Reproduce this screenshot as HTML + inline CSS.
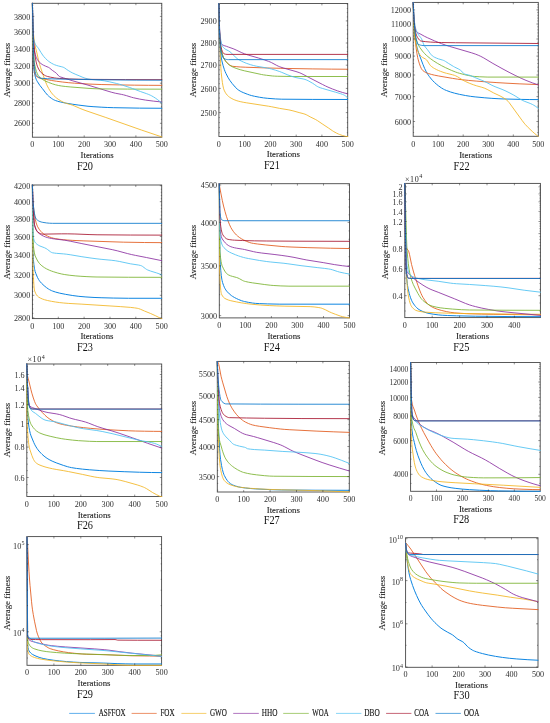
<!DOCTYPE html>
<html lang="en"><head><meta charset="utf-8"><title>Convergence curves F20-F30</title>
<style>
html,body{margin:0;padding:0;background:#fff;}
body{width:550px;height:723px;overflow:hidden;}
svg{display:block;}
text{font-family:"Liberation Serif",serif;fill:#262626;}
.tk{font-size:8.15px;fill:#303030;}
.lb{font-size:8.75px;fill:#1c1c1c;stroke:#1c1c1c;stroke-width:0.1;}
.yl{font-size:8.85px;fill:#1c1c1c;stroke:#1c1c1c;stroke-width:0.1;}
.tt{font-size:12px;fill:#111;}
.lg{font-size:9.4px;fill:#111;stroke:#111;stroke-width:0.12;}
.ex{font-size:8px;}
.cv{fill:none;stroke-width:0.85;stroke-linejoin:round;stroke-linecap:round;}
.ax{fill:none;stroke:#484848;stroke-width:0.9;}
.tm{stroke:#262626;stroke-width:0.5;}
</style></head><body>
<svg width="550" height="723" viewBox="0 0 550 723">
<rect width="550" height="723" fill="#fff"/>
<g>
<rect class="ax" x="32.4" y="3.3" width="129.4" height="133.9"/>
<path class="cv" style="stroke-width:1" stroke="#0E86E2" d="M32.4 3.3 L32.9 38.85 L33.15 49.04 L33.65 64.96 L33.9 69.6 L34.15 71.55 L34.65 74.11 L35.43 77.19 L36.15 79.23 L36.65 80.32 L37.15 81.22 L39.9 85.47 L42.4 88.58 L45.54 92.72 L47.56 95.1 L48.51 96 L49.59 96.91 L51.61 98.46 L52.62 99.12 L53.63 99.71 L54.64 100.19 L55.65 100.59 L57.67 101.26 L60.71 102.05 L65.76 103.11 L72.84 104.28 L78.9 105.14 L88 106.25 L93.06 106.66 L101.14 107.17 L107.21 107.47 L113.28 107.68 L139.56 108.13 L161.8 108.27"/>
<path class="cv" stroke="#E2581A" d="M32.4 3.3 L32.9 38.96 L33.4 56.34 L33.65 62.59 L33.9 66.83 L34.04 68.18 L34.42 70.66 L34.9 73.1 L35.15 74.1 L35.65 75.54 L35.9 76.01 L36.15 76.31 L36.65 76.64 L37.65 77.22 L38.65 77.69 L39.9 78.16 L41.15 78.52 L42.65 78.85 L46.55 79.52 L51.61 80.49 L56.66 81.28 L62.73 82.05 L68.79 82.71 L74.44 83.18 L89.01 84.07 L101.14 84.53 L119.34 84.92 L134.5 85.17 L148.66 85.31 L161.8 85.36"/>
<path class="cv" stroke="#F2B521" d="M32.4 3.3 L32.65 16.42 L32.95 27.27 L33.41 32.98 L34.15 39.84 L34.65 43.25 L35.4 47.06 L36.9 52.91 L38.47 59.93 L39.65 64.43 L40.65 67.66 L44.71 79.64 L46.55 84.27 L47.31 85.91 L48.58 88.32 L49.59 90.06 L51 92.18 L52.62 94.23 L53.63 95.36 L55.65 97.27 L56.66 98.1 L58.68 99.57 L61.72 101.4 L63.74 102.42 L64.75 102.84 L66.77 103.53 L70.82 104.64 L72.84 105.32 L74.86 106.14 L79.91 108.37 L82.95 109.58 L85.98 110.69 L105.19 117.28 L141.58 130.08 L161.8 136.91"/>
<path class="cv" stroke="#8A2FA0" d="M32.4 3.3 L32.9 24.57 L33.15 33.45 L33.4 39.58 L33.9 45.13 L34.42 49.44 L34.9 52.44 L35.4 54.78 L35.9 56.47 L36.4 57.66 L37.4 59.56 L38.4 61.04 L39.48 62.28 L40.9 63.52 L42.15 64.41 L43.52 65.21 L45.54 66.14 L48.51 67.36 L49.59 68.06 L52.33 70.36 L54.64 71.91 L55.88 72.82 L56.66 73.58 L58.68 75.86 L59.7 76.63 L60.71 77.06 L63.52 77.89 L72.84 80.85 L88 85.11 L111.25 92.18 L115.3 93.21 L121.36 94.37 L123.58 94.85 L126.42 95.64 L131.47 97.23 L133.41 97.74 L139.56 99.07 L145.62 100.1 L153.71 101.15 L161.8 102"/>
<path class="cv" stroke="#7AB22F" d="M32.4 3.3 L32.65 24.16 L32.95 40.91 L33.4 50.56 L33.65 54.63 L33.9 57.94 L34.4 62.71 L34.86 65.45 L35.65 68.85 L36.44 71.52 L37.4 73.92 L38.15 75.29 L39.15 76.59 L40.65 78.07 L42.4 79.41 L44.53 80.64 L48.58 82.41 L52.62 83.91 L55.65 84.82 L58.68 85.54 L61.72 86.04 L65.76 86.53 L70.82 86.99 L89.01 88.38 L94.07 88.68 L99.12 88.86 L127.43 89.09 L161.8 89.18"/>
<path class="cv" stroke="#4CC0F2" d="M32.4 3.3 L33.15 32.02 L33.41 37.51 L33.49 38.18 L34.15 40.88 L34.9 43.15 L35.4 44.28 L35.9 45.18 L36.65 46.22 L37.9 47.62 L38.65 48.61 L40.9 52.35 L42.65 55.02 L43.9 56.67 L45.54 58.49 L47.56 60.41 L48.58 61.24 L49.87 62.18 L51.61 63.27 L53.63 64.33 L54.64 64.77 L56.66 65.47 L58.68 66.06 L61.72 66.79 L62.73 67.08 L63.74 67.46 L64.75 68.04 L66.77 69.53 L68.79 70.82 L70.82 72.04 L72.26 72.82 L75.87 74.45 L79.91 76.1 L82.95 77.42 L84.97 78.16 L88 78.89 L90.82 79.36 L94.07 79.73 L100.13 80.26 L104.18 80.81 L109.23 81.77 L116.31 83.41 L119.34 84.22 L122.37 85.11 L129.45 87.41 L132.48 88.5 L140.57 91.59 L146.64 93.68 L148.66 94.46 L150.68 95.36 L151.69 95.86 L153.71 97.02 L155.73 98.34 L157.76 99.8 L159.78 101.39 L161.8 103.09"/>
<path class="cv" stroke="#A8152F" d="M32.4 3.3 L32.9 26.05 L33.41 37.06 L33.9 44.89 L34.4 50.72 L34.86 54.54 L35.4 58.06 L36.15 61.96 L36.9 64.88 L37.59 66.82 L38.65 69.06 L39.9 71.1 L41.15 72.59 L42.9 74.1 L44.53 75.21 L45.54 75.76 L46.55 76.18 L47.56 76.48 L50.6 77.21 L54.64 77.93 L56.66 78.2 L59.7 78.48 L69.8 78.96 L78.9 79.23 L89.01 79.37 L125.41 79.57 L161.8 79.64"/>
<path class="cv" stroke="#0878CC" d="M32.4 3.3 L33.41 45.72 L33.65 54.18 L33.9 60.66 L34.04 62.73 L34.42 66.37 L34.9 69.98 L35.15 71.48 L35.65 73.68 L35.9 74.41 L36.15 74.9 L36.65 75.5 L37.65 76.48 L38.9 77.38 L40.15 77.95 L40.9 78.15 L41.68 78.27 L47.56 78.7 L55.65 78.99 L83.96 79.51 L111.25 79.89 L136.53 80.11 L161.8 80.18"/>
<text class="tk" text-anchor="middle" x="32.4" y="147.3">0</text>
<text class="tk" text-anchor="middle" x="58.3" y="147.3">100</text>
<text class="tk" text-anchor="middle" x="84.2" y="147.3">200</text>
<text class="tk" text-anchor="middle" x="110" y="147.3">300</text>
<text class="tk" text-anchor="middle" x="135.9" y="147.3">400</text>
<text class="tk" text-anchor="middle" x="161.8" y="147.3">500</text>
<text class="tk" text-anchor="end" x="30.2" y="19.5">3800</text>
<text class="tk" text-anchor="end" x="30.2" y="35">3600</text>
<text class="tk" text-anchor="end" x="30.2" y="51.6">3400</text>
<text class="tk" text-anchor="end" x="30.2" y="68.6">3200</text>
<text class="tk" text-anchor="end" x="30.2" y="86.3">3000</text>
<text class="tk" text-anchor="end" x="30.2" y="106.1">2800</text>
<text class="tk" text-anchor="end" x="30.2" y="126.4">2600</text>
<path class="tm" d="M58.3 137.2 v-1.9 M58.3 3.3 v1.9 M84.2 137.2 v-1.9 M84.2 3.3 v1.9 M110 137.2 v-1.9 M110 3.3 v1.9 M135.9 137.2 v-1.9 M135.9 3.3 v1.9 M32.4 16.4 h1.9 M161.8 16.4 h-1.9 M32.4 31.9 h1.9 M161.8 31.9 h-1.9 M32.4 48.5 h1.9 M161.8 48.5 h-1.9 M32.4 65.5 h1.9 M161.8 65.5 h-1.9 M32.4 83.2 h1.9 M161.8 83.2 h-1.9 M32.4 103 h1.9 M161.8 103 h-1.9 M32.4 123.3 h1.9 M161.8 123.3 h-1.9 M32.4 132.4 h0.9 M161.8 132.4 h-0.9 M32.4 128 h0.9 M161.8 128 h-0.9 M32.4 119.3 h0.9 M161.8 119.3 h-0.9 M32.4 115.1 h0.9 M161.8 115.1 h-0.9 M32.4 110.9 h0.9 M161.8 110.9 h-0.9 M32.4 106.8 h0.9 M161.8 106.8 h-0.9 M32.4 98.8 h0.9 M161.8 98.8 h-0.9 M32.4 94.8 h0.9 M161.8 94.8 h-0.9 M32.4 91 h0.9 M161.8 91 h-0.9 M32.4 87.1 h0.9 M161.8 87.1 h-0.9 M32.4 79.6 h0.9 M161.8 79.6 h-0.9 M32.4 75.9 h0.9 M161.8 75.9 h-0.9 M32.4 72.3 h0.9 M161.8 72.3 h-0.9 M32.4 68.7 h0.9 M161.8 68.7 h-0.9 M32.4 61.7 h0.9 M161.8 61.7 h-0.9 M32.4 58.2 h0.9 M161.8 58.2 h-0.9 M32.4 54.8 h0.9 M161.8 54.8 h-0.9 M32.4 51.4 h0.9 M161.8 51.4 h-0.9 M32.4 44.8 h0.9 M161.8 44.8 h-0.9 M32.4 41.5 h0.9 M161.8 41.5 h-0.9 M32.4 38.3 h0.9 M161.8 38.3 h-0.9 M32.4 35.1 h0.9 M161.8 35.1 h-0.9 M32.4 28.9 h0.9 M161.8 28.9 h-0.9 M32.4 25.8 h0.9 M161.8 25.8 h-0.9 M32.4 22.8 h0.9 M161.8 22.8 h-0.9 M32.4 19.8 h0.9 M161.8 19.8 h-0.9 M32.4 13.8 h0.9 M161.8 13.8 h-0.9 M32.4 10.9 h0.9 M161.8 10.9 h-0.9 M32.4 8 h0.9 M161.8 8 h-0.9 M32.4 5.2 h0.9 M161.8 5.2 h-0.9"/>
<text class="yl" text-anchor="middle" transform="translate(9.8 70) rotate(-90)">Average fitness</text>
<text class="lb" text-anchor="middle" x="97.1" y="158.2">Iterations</text>
<text class="tt" x="77" y="169.8" textLength="16" lengthAdjust="spacingAndGlyphs">F20</text>
</g>
<g>
<rect class="ax" x="218.9" y="3.5" width="128.8" height="133"/>
<path class="cv" style="stroke-width:1" stroke="#0E86E2" d="M218.9 3.5 L219.4 31.24 L219.65 41.04 L219.77 43.64 L220.15 48.41 L220.65 53.34 L221.15 56.99 L221.9 60.87 L223.15 65.78 L224.4 69.72 L225.15 71.64 L225.9 73.33 L227.9 77.24 L228.9 78.93 L229.9 80.47 L232.08 83.42 L235.13 86.99 L237.16 89 L238.17 89.83 L240.2 91.11 L241.21 91.65 L243.24 92.58 L247.3 94.19 L249.33 94.91 L251.35 95.53 L254.4 96.26 L259.47 97.24 L263.52 97.86 L267.75 98.33 L275.69 98.95 L281.78 99.19 L312.2 99.42 L347.7 99.49"/>
<path class="cv" stroke="#E2581A" d="M218.9 3.5 L219.15 18.35 L219.48 32 L220.15 41.42 L220.65 46.13 L221.15 49.41 L221.81 52.36 L222.65 55.25 L223.65 57.88 L224.65 59.8 L225.65 61.16 L226.9 62.54 L227.9 63.53 L229.4 64.79 L230.9 65.71 L232.08 66.17 L232.86 66.33 L236.14 66.67 L240.2 66.97 L245.27 67.21 L267.58 68 L280.76 68.33 L312.2 68.9 L331.47 69.14 L347.7 69.24"/>
<path class="cv" stroke="#F2B521" d="M218.9 3.5 L219.4 26.19 L220.15 50.3 L220.65 63.22 L220.93 68.67 L221.23 72.73 L221.9 78.9 L222.4 82.59 L222.96 85.88 L223.65 88.83 L224.13 90.18 L225.15 92.22 L226.15 93.82 L227.4 95.35 L228.4 96.3 L229.65 97.25 L231.07 98.16 L233.1 99.24 L234.11 99.7 L236.14 100.48 L238.17 101.1 L240.2 101.62 L243.24 102.25 L246.28 102.78 L268.59 106.22 L271.64 106.76 L279.67 108.39 L288.88 109.89 L292.93 110.84 L299.15 112.58 L303.08 113.59 L304.96 114.18 L306.12 114.66 L307.13 115.17 L310.18 116.86 L315.25 119.35 L317.27 120.5 L322.23 123.87 L328.43 127.97 L332.49 130.78 L333.83 131.61 L336.54 133.12 L338.57 134.09 L339.59 134.49 L342.63 135.53 L345.67 136.35 L346.69 136.5 L347.7 136.5"/>
<path class="cv" stroke="#8A2FA0" d="M218.9 3.5 L219.4 23.02 L219.65 29.87 L220.15 36.67 L220.65 41.23 L220.93 42.81 L221.23 43.64 L221.9 44.32 L222.4 44.72 L223.15 45.19 L224.15 45.63 L226.4 46.31 L228.4 47.06 L233.1 48.68 L236.14 50.01 L241.21 52.45 L244.49 53.82 L248.31 55.08 L258.45 58 L264.54 59.95 L268.59 61.38 L270.07 61.96 L271.64 62.67 L276.71 65.4 L278.74 66.38 L279.75 66.8 L283.81 68.12 L295.98 71.54 L299.15 72.58 L301.05 73.37 L303.08 74.36 L308.15 77.08 L322.35 84.39 L325.39 85.92 L327.93 87.1 L332.49 89.01 L337.56 90.88 L342.63 92.5 L347.7 93.88"/>
<path class="cv" stroke="#7AB22F" d="M218.9 3.5 L219.15 18.35 L219.48 32 L220.15 41.42 L220.65 46.13 L221.15 49.41 L221.81 52.36 L222.65 55.21 L223.65 57.77 L224.65 59.67 L226.15 61.85 L227.65 63.58 L229.15 64.9 L231.07 66.13 L233.1 67.16 L236.14 68.39 L240.2 69.7 L244.25 70.77 L261.5 74.51 L263.52 74.86 L266.57 75.29 L272.65 75.99 L274.68 76.14 L277.72 76.25 L291.92 76.49 L347.7 76.51"/>
<path class="cv" stroke="#4CC0F2" d="M218.9 3.5 L219.4 23.19 L219.65 30.15 L219.77 32 L220.4 37.45 L220.9 40.71 L221.4 43.16 L221.9 44.91 L222.15 45.56 L222.65 46.5 L223.4 47.46 L224.15 48.23 L224.9 48.85 L225.65 49.35 L228.65 50.91 L229.95 51.78 L231.07 52.75 L235.13 56.77 L237.16 58.59 L238.17 59.33 L239.18 59.93 L241.21 61 L243.24 61.97 L246.28 63.25 L250.34 64.64 L253.38 65.5 L256.42 66.19 L266.57 67.92 L269.61 68.55 L271.64 69.05 L275.69 70.24 L279.75 71.59 L281.78 72.37 L287.86 74.96 L292.93 76.76 L295.98 77.6 L303.08 78.93 L304.96 79.42 L306.12 79.82 L308.15 80.74 L312.52 83.2 L314.23 84.32 L316.26 85.78 L317.27 86.43 L318.33 86.98 L320.32 87.76 L322.35 88.42 L335.53 92.2 L340.6 93.71 L342.63 94.41 L343.64 94.84 L344.66 95.4 L345.67 96.09 L347.7 97.75"/>
<path class="cv" stroke="#A8152F" d="M218.9 3.5 L219.4 27.07 L219.9 36.24 L220.4 42.46 L220.93 46.62 L221.15 47.71 L221.65 49.42 L222.4 51.47 L222.9 52.5 L223.4 53.24 L223.65 53.51 L224.13 53.82 L225.65 54.25 L227.01 54.4 L347.7 54.4"/>
<path class="cv" stroke="#0878CC" d="M218.9 3.5 L219.4 29.78 L219.9 39.73 L220.4 46.42 L220.93 50.87 L221.15 52.04 L221.65 53.93 L222.4 56.18 L222.9 57.31 L223.4 58.13 L223.65 58.42 L224.13 58.76 L225.4 59.19 L226.4 59.43 L227.4 59.58 L228.4 59.64 L347.7 59.64"/>
<text class="tk" text-anchor="middle" x="218.9" y="146.6">0</text>
<text class="tk" text-anchor="middle" x="244.7" y="146.6">100</text>
<text class="tk" text-anchor="middle" x="270.4" y="146.6">200</text>
<text class="tk" text-anchor="middle" x="296.2" y="146.6">300</text>
<text class="tk" text-anchor="middle" x="321.9" y="146.6">400</text>
<text class="tk" text-anchor="middle" x="347.7" y="146.6">500</text>
<text class="tk" text-anchor="end" x="216.7" y="24">2900</text>
<text class="tk" text-anchor="end" x="216.7" y="46.1">2800</text>
<text class="tk" text-anchor="end" x="216.7" y="68.3">2700</text>
<text class="tk" text-anchor="end" x="216.7" y="91.5">2600</text>
<text class="tk" text-anchor="end" x="216.7" y="115.7">2500</text>
<path class="tm" d="M244.7 136.5 v-1.9 M244.7 3.5 v1.9 M270.4 136.5 v-1.9 M270.4 3.5 v1.9 M296.2 136.5 v-1.9 M296.2 3.5 v1.9 M321.9 136.5 v-1.9 M321.9 3.5 v1.9 M218.9 20.9 h1.9 M347.7 20.9 h-1.9 M218.9 43 h1.9 M347.7 43 h-1.9 M218.9 65.2 h1.9 M347.7 65.2 h-1.9 M218.9 88.4 h1.9 M347.7 88.4 h-1.9 M218.9 112.6 h1.9 M347.7 112.6 h-1.9 M218.9 132.7 h0.9 M347.7 132.7 h-0.9 M218.9 127.6 h0.9 M347.7 127.6 h-0.9 M218.9 122.6 h0.9 M347.7 122.6 h-0.9 M218.9 117.6 h0.9 M347.7 117.6 h-0.9 M218.9 107.7 h0.9 M347.7 107.7 h-0.9 M218.9 102.8 h0.9 M347.7 102.8 h-0.9 M218.9 98 h0.9 M347.7 98 h-0.9 M218.9 93.2 h0.9 M347.7 93.2 h-0.9 M218.9 83.7 h0.9 M347.7 83.7 h-0.9 M218.9 79 h0.9 M347.7 79 h-0.9 M218.9 74.4 h0.9 M347.7 74.4 h-0.9 M218.9 69.8 h0.9 M347.7 69.8 h-0.9 M218.9 60.6 h0.9 M347.7 60.6 h-0.9 M218.9 56.1 h0.9 M347.7 56.1 h-0.9 M218.9 51.6 h0.9 M347.7 51.6 h-0.9 M218.9 47.2 h0.9 M347.7 47.2 h-0.9 M218.9 38.4 h0.9 M347.7 38.4 h-0.9 M218.9 34 h0.9 M347.7 34 h-0.9 M218.9 29.7 h0.9 M347.7 29.7 h-0.9 M218.9 25.4 h0.9 M347.7 25.4 h-0.9 M218.9 16.9 h0.9 M347.7 16.9 h-0.9 M218.9 12.6 h0.9 M347.7 12.6 h-0.9 M218.9 8.5 h0.9 M347.7 8.5 h-0.9 M218.9 4.3 h0.9 M347.7 4.3 h-0.9"/>
<text class="yl" text-anchor="middle" transform="translate(196 70) rotate(-90)">Average fitness</text>
<text class="lb" text-anchor="middle" x="283.3" y="156.6">Iterations</text>
<text class="tt" x="263.9" y="168.5" textLength="16" lengthAdjust="spacingAndGlyphs">F21</text>
</g>
<g>
<rect class="ax" x="413.2" y="2.4" width="125.1" height="133.9"/>
<path class="cv" style="stroke-width:1" stroke="#0E86E2" d="M413.2 2.4 L413.7 18.36 L413.95 24.38 L414.21 28.61 L414.7 34.41 L415.2 38.42 L415.95 42.55 L416.95 47.06 L417.95 50.72 L419.25 54.61 L422.95 64.42 L424.7 68.59 L426.32 71.88 L427.27 73.5 L428.33 75.12 L429.34 76.54 L431.36 79.1 L432.37 80.25 L434.39 82.32 L436.24 84 L438.42 85.78 L441.45 87.95 L443.47 89.15 L444.47 89.66 L446.49 90.53 L450.53 91.99 L454.56 93.18 L459.61 94.38 L465.66 95.56 L470.71 96.36 L475.15 96.9 L484.83 97.81 L491.89 98.35 L498.95 98.76 L505.01 99 L520.14 99.39 L529.22 99.54 L538.3 99.6"/>
<path class="cv" stroke="#E2581A" d="M413.2 2.4 L413.95 21.89 L414.4 30 L414.95 36.56 L415.7 44.09 L416.23 48.51 L416.95 53.53 L417.7 57.57 L418.24 59.84 L419.45 63.88 L420.45 66.62 L421.27 68.41 L422.2 69.89 L422.78 70.5 L424.2 71.56 L425.2 72.17 L426.32 72.72 L428.33 73.5 L431.36 74.41 L434.39 75.15 L438.42 75.94 L452.55 78.38 L457.59 79.16 L462.63 79.79 L468.69 80.42 L476.76 81.14 L486.85 81.92 L496.94 82.62 L507.02 83.21 L519.13 83.83 L538.3 84.6"/>
<path class="cv" stroke="#F2B521" d="M413.2 2.4 L413.95 27.57 L414.2 33.49 L414.4 36 L414.95 39.48 L415.7 43.48 L416.45 46.72 L417.2 49.31 L417.95 51.35 L418.95 53.39 L419.95 54.88 L420.99 56.1 L421.7 56.79 L422.45 57.36 L425.31 58.95 L426.68 60 L427.32 60.76 L429.34 64.07 L430.35 65.47 L431.36 66.39 L433.38 67.85 L434.39 68.45 L436.4 69.52 L438.42 70.47 L440.44 71.31 L444.06 72.6 L446.49 73.3 L452.55 74.77 L454.56 75.39 L455.57 75.77 L457.59 76.77 L462.63 79.97 L464.65 81.12 L465.66 81.6 L469.7 83.36 L473.73 84.89 L476.76 85.87 L481.8 87.25 L484.83 88.3 L487.86 89.76 L493.78 93 L498.95 95.41 L500.97 96.42 L502.99 97.55 L505.01 98.79 L506.02 99.49 L507.26 100.5 L508.03 101.25 L509.04 102.43 L522.16 120.54 L524.18 123.17 L525.18 124.35 L528.21 127.59 L532.25 131.42 L534.26 133.19 L536.28 134.86 L537.29 135.65 L538.3 136.3"/>
<path class="cv" stroke="#8A2FA0" d="M413.2 2.4 L413.7 14.48 L413.95 19.03 L414.45 24.74 L414.95 28.7 L415.22 29.83 L415.7 30.63 L416.7 31.85 L417.7 32.68 L418.7 33.26 L420.95 34.31 L424.3 36.19 L427.32 37.67 L434.39 40.81 L438.42 42.47 L441.45 43.64 L445.48 45.09 L449.52 46.39 L471.71 52.85 L475.75 54.22 L478.78 55.44 L480.79 56.37 L483.82 57.98 L492.9 63.44 L501.98 68.51 L509.04 72.3 L515.1 75.36 L521.15 78.27 L526.03 80.4 L532.25 82.82 L538.3 84.9"/>
<path class="cv" stroke="#7AB22F" d="M413.2 2.4 L413.7 16.21 L413.95 21.56 L414.21 25.57 L414.7 31.56 L414.95 33.86 L415.29 36 L416.23 39.55 L417.24 42.53 L417.7 43.65 L418.45 45.2 L419.7 47.27 L422.45 51.08 L423.45 52.29 L424.7 53.67 L426.32 55.25 L427.32 56.14 L430.35 58.57 L433.38 60.76 L437.41 63.34 L441.45 65.6 L445.48 67.63 L451.54 70.41 L455.57 72.02 L457.59 72.73 L459.61 73.34 L464.65 74.67 L468.69 75.59 L472.72 76.26 L474.74 76.47 L479.79 76.79 L487.86 77.08 L538.3 77.1"/>
<path class="cv" stroke="#4CC0F2" d="M413.2 2.4 L413.95 16.21 L414.45 21.46 L414.95 25.24 L415.2 26.59 L415.7 28.52 L416.23 30.17 L417.2 32.51 L418.45 34.77 L419.2 35.81 L420.7 37.53 L421.49 38.7 L422.2 40.33 L423.45 43.85 L423.95 44.96 L424.45 45.8 L425.31 47.03 L427.57 49.8 L430.35 53.64 L431.36 54.89 L432.37 55.88 L433.38 56.58 L434.39 57.16 L436.4 58.09 L438.42 58.86 L442.46 60.02 L443.47 60.38 L444.47 60.83 L445.48 61.41 L448.51 63.41 L453.55 66.49 L454.56 67.05 L458.6 69.04 L459.89 69.81 L460.62 70.37 L463.64 73.31 L464.65 74.01 L465.66 74.39 L469.7 75.31 L470.71 75.65 L474.74 77.48 L481.8 80.3 L484.13 81.3 L486.85 82.62 L491.89 85.25 L493.91 86.19 L495.93 87.02 L501.98 89.33 L505.01 90.65 L509.04 92.62 L513.16 94.8 L515.1 95.92 L520.14 99.08 L522.16 100.21 L524.18 101.15 L530.23 103.45 L532.31 104.4 L533.26 104.91 L535.27 106.15 L538.3 108.3"/>
<path class="cv" stroke="#A8152F" d="M413.2 2.4 L413.7 14.49 L414.1 21 L414.95 28.05 L415.7 32.39 L415.95 33.48 L416.45 35.19 L416.79 36 L417.7 37.68 L418.7 39.17 L419.45 40.03 L420.2 40.66 L420.95 41.02 L425.2 41.61 L430.35 42.07 L435.4 42.34 L441.45 42.53 L455.57 42.74 L538.3 43.5"/>
<path class="cv" stroke="#0878CC" d="M413.2 2.4 L413.7 14.05 L414.1 21 L414.7 28.26 L415.45 34.94 L415.89 37.5 L416.45 39.88 L416.95 41.72 L417.45 43.16 L417.95 44.1 L418.2 44.35 L419.25 44.77 L420.45 45.13 L421.7 45.4 L422.95 45.55 L424.2 45.6 L538.3 45.6"/>
<text class="tk" text-anchor="middle" x="413.2" y="147.2">0</text>
<text class="tk" text-anchor="middle" x="438.2" y="147.2">100</text>
<text class="tk" text-anchor="middle" x="463.2" y="147.2">200</text>
<text class="tk" text-anchor="middle" x="488.3" y="147.2">300</text>
<text class="tk" text-anchor="middle" x="513.3" y="147.2">400</text>
<text class="tk" text-anchor="middle" x="538.3" y="147.2">500</text>
<text class="tk" text-anchor="end" x="411" y="13">12000</text>
<text class="tk" text-anchor="end" x="411" y="27.1">11000</text>
<text class="tk" text-anchor="end" x="411" y="42.1">10000</text>
<text class="tk" text-anchor="end" x="411" y="59.2">9000</text>
<text class="tk" text-anchor="end" x="411" y="78.1">8000</text>
<text class="tk" text-anchor="end" x="411" y="99.7">7000</text>
<text class="tk" text-anchor="end" x="411" y="124.6">6000</text>
<path class="tm" d="M438.2 136.3 v-1.9 M438.2 2.4 v1.9 M463.2 136.3 v-1.9 M463.2 2.4 v1.9 M488.3 136.3 v-1.9 M488.3 2.4 v1.9 M513.3 136.3 v-1.9 M513.3 2.4 v1.9 M413.2 9.9 h1.9 M538.3 9.9 h-1.9 M413.2 24 h1.9 M538.3 24 h-1.9 M413.2 39 h1.9 M538.3 39 h-1.9 M413.2 56.1 h1.9 M538.3 56.1 h-1.9 M413.2 75 h1.9 M538.3 75 h-1.9 M413.2 96.6 h1.9 M538.3 96.6 h-1.9 M413.2 121.5 h1.9 M538.3 121.5 h-1.9 M413.2 132.5 h0.9 M538.3 132.5 h-0.9 M413.2 126.9 h0.9 M538.3 126.9 h-0.9 M413.2 116.1 h0.9 M538.3 116.1 h-0.9 M413.2 111 h0.9 M538.3 111 h-0.9 M413.2 106.1 h0.9 M538.3 106.1 h-0.9 M413.2 101.3 h0.9 M538.3 101.3 h-0.9 M413.2 92.1 h0.9 M538.3 92.1 h-0.9 M413.2 87.6 h0.9 M538.3 87.6 h-0.9 M413.2 83.4 h0.9 M538.3 83.4 h-0.9 M413.2 79.2 h0.9 M538.3 79.2 h-0.9 M413.2 71.1 h0.9 M538.3 71.1 h-0.9 M413.2 67.2 h0.9 M538.3 67.2 h-0.9 M413.2 63.5 h0.9 M538.3 63.5 h-0.9 M413.2 59.8 h0.9 M538.3 59.8 h-0.9 M413.2 52.6 h0.9 M538.3 52.6 h-0.9 M413.2 49.1 h0.9 M538.3 49.1 h-0.9 M413.2 45.8 h0.9 M538.3 45.8 h-0.9 M413.2 42.4 h0.9 M538.3 42.4 h-0.9 M413.2 36 h0.9 M538.3 36 h-0.9 M413.2 32.9 h0.9 M538.3 32.9 h-0.9 M413.2 29.8 h0.9 M538.3 29.8 h-0.9 M413.2 26.8 h0.9 M538.3 26.8 h-0.9 M413.2 20.9 h0.9 M538.3 20.9 h-0.9 M413.2 18.1 h0.9 M538.3 18.1 h-0.9 M413.2 15.3 h0.9 M538.3 15.3 h-0.9 M413.2 12.5 h0.9 M538.3 12.5 h-0.9 M413.2 7.2 h0.9 M538.3 7.2 h-0.9 M413.2 4.6 h0.9 M538.3 4.6 h-0.9"/>
<text class="yl" text-anchor="middle" transform="translate(387 70) rotate(-90)">Average fitness</text>
<text class="lb" text-anchor="middle" x="475.7" y="158.1">Iterations</text>
<text class="tt" x="453.6" y="169.8" textLength="16" lengthAdjust="spacingAndGlyphs">F22</text>
</g>
<g>
<rect class="ax" x="32.4" y="185" width="129.3" height="133.6"/>
<path class="cv" style="stroke-width:1" stroke="#0E86E2" d="M32.4 185 L32.9 247.46 L33.05 255.09 L33.41 259.68 L33.9 264.55 L34.42 268.25 L34.65 269.48 L35.15 271.56 L35.9 273.69 L37.45 277.35 L38.65 279.56 L39.4 280.71 L40.15 281.7 L41.65 283.38 L44.15 285.73 L46.54 287.67 L48.56 289.05 L49.57 289.65 L51.59 290.66 L52.6 291.07 L55.63 292.09 L59.67 293.15 L65.7 294.36 L72.81 295.55 L78.87 296.34 L85.94 296.96 L94.02 297.46 L101.09 297.72 L113.21 298.06 L128.36 298.28 L161.7 298.29"/>
<path class="cv" stroke="#E2581A" d="M32.4 185 L32.9 200.13 L33.15 203.71 L33.9 210.43 L34.65 215.7 L35.4 219.75 L36.15 222.8 L36.9 225.04 L37.65 226.72 L39.15 229.22 L40.65 231.2 L42.15 232.76 L43.65 233.97 L45.53 235.15 L47.55 236.15 L49.57 237 L51.59 237.7 L53.61 238.26 L55.63 238.68 L59.67 239.27 L63.71 239.72 L67.76 240.07 L72.23 240.36 L83.92 240.88 L123.31 242.16 L144.53 242.52 L161.7 242.65"/>
<path class="cv" stroke="#F2B521" d="M32.4 185 L32.9 258.42 L33.05 268.18 L33.4 276.83 L33.9 285.28 L34.15 288 L34.42 289.98 L34.69 291.09 L35.65 293.42 L36.44 294.82 L37.4 296.03 L37.9 296.51 L38.65 297.07 L40.4 298.08 L42.4 298.99 L44.52 299.73 L47.55 300.52 L51.59 301.34 L55.63 302.02 L59.67 302.58 L63.71 303.02 L68.77 303.43 L81.9 304.17 L120.28 306.6 L130.39 307.39 L134.43 307.85 L137.21 308.27 L138.47 308.56 L140.49 309.27 L144.53 311.04 L150.59 313.5 L155.64 315.79 L160.69 318.36 L161.7 318.6"/>
<path class="cv" stroke="#8A2FA0" d="M32.4 185 L32.9 202.41 L33.05 206 L33.65 216.01 L34.15 222.09 L34.42 224.3 L34.69 225.64 L35.43 227.87 L36.15 229.58 L37.15 231.35 L37.9 232.32 L38.9 233.29 L40.15 234.22 L41.65 235.18 L43.51 236.15 L45.53 236.98 L47.55 237.62 L49.57 238.11 L51.59 238.51 L54.62 238.98 L64.72 240.21 L70.79 241.3 L81.9 243.61 L112.2 249.64 L117.25 250.8 L127.35 253.54 L131.4 254.52 L135.44 255.38 L146.55 257.55 L161.7 260.65"/>
<path class="cv" stroke="#7AB22F" d="M32.4 185 L32.9 235.76 L33.05 242 L33.41 245.82 L33.9 249.87 L34.42 252.95 L34.65 253.99 L35.15 255.72 L35.65 256.97 L37.15 260.02 L38.4 262.07 L39.65 263.68 L41.15 265.19 L43.15 266.76 L44.52 267.69 L46.54 268.87 L49.57 270.3 L51.59 271.09 L53.61 271.78 L57.65 273 L61.69 274 L64.72 274.57 L69.78 275.27 L75.84 275.91 L80.89 276.29 L86.95 276.63 L92 276.86 L97.05 277 L128.36 277.26 L161.7 277.34"/>
<path class="cv" stroke="#4CC0F2" d="M32.4 185 L32.9 230.33 L33.05 235.45 L33.41 237.43 L33.9 239.52 L34.15 240.34 L34.65 241.59 L35.15 242.44 L35.65 243.02 L36.65 243.94 L37.65 244.73 L38.65 245.37 L39.9 246 L44.4 247.71 L46.11 248.54 L47.55 249.53 L50.58 251.87 L51.59 252.44 L52.6 252.79 L54.62 253.12 L56.64 253.35 L63.71 253.9 L66.75 254.24 L70.79 254.84 L81.9 256.71 L89.98 257.91 L96.04 258.73 L101.09 259.31 L111.19 260.24 L115.23 260.73 L119.27 261.43 L130.39 263.81 L138.47 265.03 L140.49 265.48 L141.5 265.82 L142.51 266.39 L145.54 268.7 L146.55 269.4 L147.56 269.92 L150.59 271.07 L156.65 272.93 L161.7 274.73"/>
<path class="cv" stroke="#A8152F" d="M32.4 185 L32.9 202.41 L33.05 206 L33.65 215.96 L34.15 222 L34.42 224.23 L34.69 225.64 L35.4 227.98 L35.9 229.27 L36.65 230.73 L37.15 231.43 L37.9 232.14 L39.4 233.1 L40.65 233.69 L41.9 234.06 L42.85 234.14 L61.69 233.84 L67.76 233.83 L74.83 233.99 L89.98 234.59 L97.05 234.78 L130.39 235.04 L161.7 235.13"/>
<path class="cv" stroke="#0878CC" d="M32.4 185 L32.9 200.19 L33.05 202.73 L33.9 209.95 L34.4 213.12 L34.9 215.55 L35.15 216.51 L35.65 217.98 L35.9 218.5 L36.32 219.09 L37.45 220.1 L38.65 220.92 L39.9 221.54 L41.15 221.98 L42.85 222.36 L46.54 222.93 L49.57 223.23 L52.6 223.34 L161.7 223.34"/>
<text class="tk" text-anchor="middle" x="32.4" y="328.7">0</text>
<text class="tk" text-anchor="middle" x="58.3" y="328.7">100</text>
<text class="tk" text-anchor="middle" x="84.1" y="328.7">200</text>
<text class="tk" text-anchor="middle" x="110" y="328.7">300</text>
<text class="tk" text-anchor="middle" x="135.8" y="328.7">400</text>
<text class="tk" text-anchor="middle" x="161.7" y="328.7">500</text>
<text class="tk" text-anchor="end" x="30.2" y="188.8">4200</text>
<text class="tk" text-anchor="end" x="30.2" y="204.8">4000</text>
<text class="tk" text-anchor="end" x="30.2" y="222.2">3800</text>
<text class="tk" text-anchor="end" x="30.2" y="239.5">3600</text>
<text class="tk" text-anchor="end" x="30.2" y="258.2">3400</text>
<text class="tk" text-anchor="end" x="30.2" y="277.8">3200</text>
<text class="tk" text-anchor="end" x="30.2" y="298.4">3000</text>
<text class="tk" text-anchor="end" x="30.2" y="321">2800</text>
<path class="tm" d="M58.3 318.6 v-1.9 M58.3 185 v1.9 M84.1 318.6 v-1.9 M84.1 185 v1.9 M110 318.6 v-1.9 M110 185 v1.9 M135.8 318.6 v-1.9 M135.8 185 v1.9 M32.4 185.7 h1.9 M161.7 185.7 h-1.9 M32.4 201.7 h1.9 M161.7 201.7 h-1.9 M32.4 219.1 h1.9 M161.7 219.1 h-1.9 M32.4 236.4 h1.9 M161.7 236.4 h-1.9 M32.4 255.1 h1.9 M161.7 255.1 h-1.9 M32.4 274.7 h1.9 M161.7 274.7 h-1.9 M32.4 295.3 h1.9 M161.7 295.3 h-1.9 M32.4 317.9 h1.9 M161.7 317.9 h-1.9 M32.4 313.4 h0.9 M161.7 313.4 h-0.9 M32.4 308.9 h0.9 M161.7 308.9 h-0.9 M32.4 304.4 h0.9 M161.7 304.4 h-0.9 M32.4 299.9 h0.9 M161.7 299.9 h-0.9 M32.4 291.3 h0.9 M161.7 291.3 h-0.9 M32.4 287 h0.9 M161.7 287 h-0.9 M32.4 282.8 h0.9 M161.7 282.8 h-0.9 M32.4 278.7 h0.9 M161.7 278.7 h-0.9 M32.4 270.5 h0.9 M161.7 270.5 h-0.9 M32.4 266.5 h0.9 M161.7 266.5 h-0.9 M32.4 262.6 h0.9 M161.7 262.6 h-0.9 M32.4 258.7 h0.9 M161.7 258.7 h-0.9 M32.4 251 h0.9 M161.7 251 h-0.9 M32.4 247.3 h0.9 M161.7 247.3 h-0.9 M32.4 243.5 h0.9 M161.7 243.5 h-0.9 M32.4 239.9 h0.9 M161.7 239.9 h-0.9 M32.4 232.6 h0.9 M161.7 232.6 h-0.9 M32.4 229.1 h0.9 M161.7 229.1 h-0.9 M32.4 225.6 h0.9 M161.7 225.6 h-0.9 M32.4 222.1 h0.9 M161.7 222.1 h-0.9 M32.4 215.2 h0.9 M161.7 215.2 h-0.9 M32.4 211.9 h0.9 M161.7 211.9 h-0.9 M32.4 208.5 h0.9 M161.7 208.5 h-0.9 M32.4 205.2 h0.9 M161.7 205.2 h-0.9 M32.4 198.7 h0.9 M161.7 198.7 h-0.9 M32.4 195.5 h0.9 M161.7 195.5 h-0.9 M32.4 192.3 h0.9 M161.7 192.3 h-0.9 M32.4 189.2 h0.9 M161.7 189.2 h-0.9"/>
<text class="yl" text-anchor="middle" transform="translate(9.8 252) rotate(-90)">Average fitness</text>
<text class="lb" text-anchor="middle" x="96.9" y="339">Iterations</text>
<text class="tt" x="77" y="351" textLength="16" lengthAdjust="spacingAndGlyphs">F23</text>
</g>
<g>
<rect class="ax" x="219.3" y="183.7" width="130.2" height="134.2"/>
<path class="cv" style="stroke-width:1" stroke="#0E86E2" d="M219.3 183.75 L219.8 249.75 L219.96 258.36 L220.31 264.31 L220.8 270.81 L221.3 275.67 L221.8 279.11 L222.05 280.42 L222.55 282.45 L223.55 285.41 L224.55 287.75 L225.05 288.7 L225.8 289.91 L226.55 290.93 L227.3 291.81 L229.3 293.85 L231.41 295.59 L232.42 296.29 L234.44 297.49 L236.46 298.53 L238.48 299.48 L241.5 300.69 L243.52 301.31 L244.53 301.56 L248.57 302.39 L252.61 303.05 L255.63 303.39 L259.67 303.62 L267.75 303.92 L279.86 304.16 L349.5 304.18"/>
<path class="cv" stroke="#E2581A" d="M219.3 183.75 L219.8 187.48 L220.8 192.91 L222.33 200.57 L223.56 206 L225.05 211.68 L226.55 216.74 L227.8 220.35 L229.55 224.74 L230.8 227.41 L231.76 229.1 L233.43 231.54 L234.44 232.82 L235.45 233.98 L236.46 235.02 L237.47 235.94 L239.49 237.51 L241.5 238.82 L243.52 239.92 L246.55 241.34 L249.58 242.52 L251.6 243.08 L253.62 243.46 L257.65 244.03 L265.73 244.94 L281.88 246.49 L285.55 246.74 L291.97 247.06 L307.11 247.62 L330.32 248.22 L349.5 248.54"/>
<path class="cv" stroke="#F2B521" d="M219.3 183.75 L219.55 258.81 L219.63 268.18 L219.8 273.33 L220.31 284.48 L220.55 287.94 L220.8 290.56 L221.05 292.36 L221.32 293.6 L221.8 294.78 L222.55 296.09 L223.55 297.36 L224.55 298.22 L226.05 299.06 L228.3 299.99 L230.8 300.72 L236.46 301.92 L241.5 302.85 L246.55 303.62 L251.11 304.18 L260.68 305.05 L269.77 305.6 L276.83 305.91 L284.9 306.17 L310.14 306.63 L314.17 306.91 L318.21 307.47 L320.31 307.85 L321.24 308.08 L322.25 308.43 L325.28 309.71 L329.31 311.78 L331.33 312.69 L335.37 314.28 L340.42 316.09 L342.28 316.62 L345.46 317.31 L347.48 317.67 L349.5 317.9"/>
<path class="cv" stroke="#8A2FA0" d="M219.3 183.75 L219.8 223.97 L219.96 228.91 L220.3 231.51 L220.8 234.44 L221.3 236.53 L221.8 237.99 L222.3 239 L223.8 241.14 L225.3 242.92 L226.8 244.33 L228.3 245.43 L229.55 246.13 L230.8 246.68 L232.42 247.22 L234.44 247.74 L236.46 248.16 L242.51 249.14 L244.53 249.52 L253.62 251.68 L256.64 252.3 L261.69 253.03 L274.07 254.44 L281.88 255.45 L287.93 256.32 L293.99 257.37 L303.07 259.27 L306.87 260 L323.26 262.62 L334.36 264.59 L342.43 265.74 L349.5 266.54"/>
<path class="cv" stroke="#7AB22F" d="M219.3 183.75 L219.8 244.42 L219.96 251.82 L220.05 252.91 L220.55 257.79 L221.05 261.33 L221.55 263.81 L222.05 265.52 L222.55 266.75 L223.55 268.85 L224.8 271.14 L226.05 272.89 L226.8 273.69 L227.37 274.2 L228.05 274.66 L228.8 275.07 L230.55 275.82 L232.42 276.39 L236.46 277.46 L237.99 278 L239.49 278.72 L242.51 280.43 L243.52 280.91 L244.53 281.27 L245.54 281.53 L248.57 282.19 L252.61 282.86 L264.72 284.56 L270.77 285.27 L273.8 285.51 L280.87 285.91 L288.94 286.17 L349.5 286.18"/>
<path class="cv" stroke="#4CC0F2" d="M219.3 183.75 L219.8 229.95 L219.96 235.45 L220.55 239.02 L221.05 241.38 L221.8 244.01 L222.55 245.77 L223.05 246.59 L223.8 247.49 L226.05 249.68 L227.8 251.05 L229.39 252.04 L231.3 252.99 L235.45 254.74 L238.48 255.9 L240.5 256.57 L243.52 257.45 L245.54 257.94 L248.57 258.56 L259.67 260.5 L266.74 261.54 L270.77 262 L283.91 263.27 L287.93 263.79 L301.05 265.66 L317.2 267.59 L324.27 268.36 L328.3 268.91 L330.32 269.26 L332.34 269.78 L337.39 271.46 L339.66 272.11 L344.45 273.17 L349.5 274.07"/>
<path class="cv" stroke="#A8152F" d="M219.3 183.75 L219.8 214.79 L219.96 219.09 L220.31 222.72 L220.8 226.76 L221.3 229.86 L221.8 232.09 L222.3 233.66 L222.8 234.75 L223.8 236.23 L224.8 237.38 L225.8 238.27 L226.37 238.66 L227.05 239.02 L228.05 239.36 L229.8 239.67 L232.42 240 L234.44 240.17 L242.51 240.53 L254.63 240.85 L266.74 241.01 L296.01 241.2 L349.5 241.34"/>
<path class="cv" stroke="#0878CC" d="M219.3 183.75 L219.8 209.18 L219.96 212.54 L220.55 216.79 L221.05 218.83 L221.3 219.4 L221.55 219.71 L222.33 220.14 L223.3 220.51 L224.05 220.67 L224.88 220.73 L349.5 220.73"/>
<text class="tk" text-anchor="middle" x="219.3" y="328">0</text>
<text class="tk" text-anchor="middle" x="245.3" y="328">100</text>
<text class="tk" text-anchor="middle" x="271.4" y="328">200</text>
<text class="tk" text-anchor="middle" x="297.4" y="328">300</text>
<text class="tk" text-anchor="middle" x="323.5" y="328">400</text>
<text class="tk" text-anchor="middle" x="349.5" y="328">500</text>
<text class="tk" text-anchor="end" x="217.1" y="188.1">4500</text>
<text class="tk" text-anchor="end" x="217.1" y="225.5">4000</text>
<text class="tk" text-anchor="end" x="217.1" y="269">3500</text>
<text class="tk" text-anchor="end" x="217.1" y="318.7">3000</text>
<path class="tm" d="M245.3 317.9 v-1.9 M245.3 183.7 v1.9 M271.4 317.9 v-1.9 M271.4 183.7 v1.9 M297.4 317.9 v-1.9 M297.4 183.7 v1.9 M323.5 317.9 v-1.9 M323.5 183.7 v1.9 M219.3 185 h1.9 M349.5 185 h-1.9 M219.3 222.4 h1.9 M349.5 222.4 h-1.9 M219.3 265.9 h1.9 M349.5 265.9 h-1.9 M219.3 315.6 h1.9 M349.5 315.6 h-1.9 M219.3 305 h0.9 M349.5 305 h-0.9 M219.3 294.7 h0.9 M349.5 294.7 h-0.9 M219.3 284.8 h0.9 M349.5 284.8 h-0.9 M219.3 275.2 h0.9 M349.5 275.2 h-0.9 M219.3 256.7 h0.9 M349.5 256.7 h-0.9 M219.3 247.9 h0.9 M349.5 247.9 h-0.9 M219.3 239.3 h0.9 M349.5 239.3 h-0.9 M219.3 230.9 h0.9 M349.5 230.9 h-0.9 M219.3 214.8 h0.9 M349.5 214.8 h-0.9 M219.3 207 h0.9 M349.5 207 h-0.9 M219.3 199.4 h0.9 M349.5 199.4 h-0.9 M219.3 192 h0.9 M349.5 192 h-0.9"/>
<text class="yl" text-anchor="middle" transform="translate(196 252) rotate(-90)">Average fitness</text>
<text class="lb" text-anchor="middle" x="283.9" y="338.9">Iterations</text>
<text class="tt" x="263.8" y="351.4" textLength="16" lengthAdjust="spacingAndGlyphs">F24</text>
</g>
<g>
<rect class="ax" x="404.8" y="183.4" width="135.6" height="134.2"/>
<path class="cv" style="stroke-width:1" stroke="#0E86E2" d="M404.8 183.4 L405.3 224.4 L405.81 258.42 L406.05 268.24 L406.3 272.43 L406.82 279.27 L407.3 283.7 L407.55 285.51 L408.05 288.36 L409.3 293.69 L409.86 295.66 L410.55 297.77 L411.55 300.3 L412.3 301.84 L412.9 302.89 L414.55 305.27 L415.55 306.49 L416.55 307.56 L417.96 308.81 L418.97 309.54 L419.98 310.14 L423.01 311.6 L426.05 312.71 L429.09 313.47 L433.13 314.17 L438.19 314.86 L442.24 315.24 L447.3 315.5 L456.41 315.82 L475.64 316.23 L511.05 316.57 L540.4 316.68"/>
<path class="cv" stroke="#E2581A" d="M404.8 183.4 L405.81 238.67 L406.07 246.36 L406.3 247.26 L406.8 248.57 L407.05 248.97 L408.05 250.08 L408.3 250.46 L408.85 251.83 L409.55 254.61 L411.55 264.48 L413.3 271.04 L414.55 275.25 L415.93 279.55 L417.96 285.41 L419.98 290.94 L420.99 293.42 L422 295.62 L423.01 297.46 L425.04 300.6 L426.05 301.98 L427.06 303.21 L428.07 304.25 L429.25 305.23 L431.11 306.43 L432.12 307 L434.15 308 L437.18 309.18 L441.23 310.36 L446.29 311.57 L450.34 312.32 L454.66 312.86 L460.46 313.32 L466.53 313.66 L481.71 314.12 L493.85 314.34 L511.05 314.55 L540.4 314.77"/>
<path class="cv" stroke="#F2B521" d="M404.8 183.4 L405.3 224.76 L405.81 255.7 L406.07 265.45 L406.55 275.25 L407.05 283.27 L407.55 289.35 L408.05 293.81 L408.55 296.96 L409.3 300.37 L410.05 303.04 L410.55 304.45 L411.05 305.59 L411.79 306.82 L412.55 307.76 L413.3 308.56 L414.55 309.62 L415.3 310.1 L415.93 310.41 L417.96 311.02 L419.98 311.47 L422 311.8 L425.04 312.14 L435.16 312.75 L448.31 313.2 L469.56 313.6 L507.01 314.02 L540.4 314.29"/>
<path class="cv" stroke="#8A2FA0" d="M404.8 183.4 L405.3 224.4 L405.8 258.96 L406.05 268.5 L406.55 270.28 L407.05 271.56 L407.55 272.49 L408.3 273.41 L409.86 274.65 L411.8 276.69 L413.3 278.09 L414.8 279.36 L416.3 280.51 L419.98 283.13 L423.01 285.16 L426.05 287 L428.07 288.09 L430.1 289.08 L432.12 289.94 L438.19 292.27 L454.66 298.86 L465.52 303.45 L469.56 304.92 L472.6 305.83 L475.64 306.65 L481.71 308.08 L488.79 309.49 L496.89 310.85 L501.95 311.55 L505.99 312.01 L540.4 315.41"/>
<path class="cv" stroke="#7AB22F" d="M404.8 183.4 L405.55 205.34 L406.55 239.13 L406.82 246.07 L407.05 249.91 L407.8 258.78 L408.3 263.51 L409.05 269.11 L409.8 273.25 L410.8 277.3 L412.05 281.31 L413.3 284.51 L415.05 288.12 L417.96 293.49 L418.97 295.24 L419.98 296.86 L420.99 298.31 L422 299.55 L422.9 300.45 L425.04 302.22 L427.06 303.66 L428.07 304.28 L430.1 305.33 L432.12 306.09 L436.17 307.09 L440.22 307.81 L444.27 308.32 L452.36 309.07 L461.47 309.7 L469.56 309.99 L502.96 310.23 L540.4 310.32"/>
<path class="cv" stroke="#4CC0F2" d="M404.8 183.4 L405.55 225.63 L406.3 251.58 L406.8 263.06 L407.02 265.45 L407.3 267.04 L407.8 269.45 L408.3 271.35 L408.8 272.8 L409.3 273.87 L409.8 274.6 L410.3 275.08 L411.3 275.81 L412.3 276.43 L414.3 277.38 L416.55 278.1 L419.98 278.87 L422 279.26 L425.04 279.74 L438.19 281.28 L450.34 283.11 L453.37 283.47 L456.41 283.73 L469.56 284.48 L485.76 285.62 L493.85 286.28 L500.93 286.95 L508.02 287.8 L524.21 290.23 L540.4 292.18"/>
<path class="cv" stroke="#A8152F" d="M404.8 183.4 L405.3 225.37 L406.05 264.08 L406.3 270.82 L406.39 271.82 L406.82 274.36 L407.3 276.35 L407.55 277.07 L407.8 277.6 L408.05 277.92 L408.29 278.05 L409.55 278.25 L411.79 278.37 L540.4 278.37"/>
<path class="cv" stroke="#0878CC" d="M404.8 183.4 L405.3 225.37 L406.05 264.07 L406.3 270.81 L406.39 271.82 L406.82 274.41 L407.3 276.44 L407.55 277.18 L407.8 277.71 L408.05 278.04 L408.29 278.18 L409.55 278.37 L411.79 278.5 L540.4 278.5"/>
<text class="tk" text-anchor="middle" x="404.8" y="327.7">0</text>
<text class="tk" text-anchor="middle" x="432.2" y="327.7">100</text>
<text class="tk" text-anchor="middle" x="459.6" y="327.7">200</text>
<text class="tk" text-anchor="middle" x="487" y="327.7">300</text>
<text class="tk" text-anchor="middle" x="514.4" y="327.7">400</text>
<text class="tk" text-anchor="end" x="402.6" y="189.9">2</text>
<text class="tk" text-anchor="end" x="402.6" y="197">1.8</text>
<text class="tk" text-anchor="end" x="402.6" y="204.9">1.6</text>
<text class="tk" text-anchor="end" x="402.6" y="214.5">1.4</text>
<text class="tk" text-anchor="end" x="402.6" y="224.6">1.2</text>
<text class="tk" text-anchor="end" x="402.6" y="236.7">1</text>
<text class="tk" text-anchor="end" x="402.6" y="252">0.8</text>
<text class="tk" text-anchor="end" x="402.6" y="271.7">0.6</text>
<text class="tk" text-anchor="end" x="402.6" y="298.8">0.4</text>
<path class="tm" d="M432.2 317.6 v-1.9 M432.2 183.4 v1.9 M459.6 317.6 v-1.9 M459.6 183.4 v1.9 M487 317.6 v-1.9 M487 183.4 v1.9 M514.4 317.6 v-1.9 M514.4 183.4 v1.9 M404.8 186.8 h1.9 M540.4 186.8 h-1.9 M404.8 193.9 h1.9 M540.4 193.9 h-1.9 M404.8 201.8 h1.9 M540.4 201.8 h-1.9 M404.8 211.4 h1.9 M540.4 211.4 h-1.9 M404.8 221.5 h1.9 M540.4 221.5 h-1.9 M404.8 233.6 h1.9 M540.4 233.6 h-1.9 M404.8 248.9 h1.9 M540.4 248.9 h-1.9 M404.8 268.6 h1.9 M540.4 268.6 h-1.9 M404.8 295.7 h1.9 M540.4 295.7 h-1.9 M404.8 311 h0.9 M540.4 311 h-0.9 M404.8 303 h0.9 M540.4 303 h-0.9 M404.8 289.4 h0.9 M540.4 289.4 h-0.9 M404.8 283.5 h0.9 M540.4 283.5 h-0.9 M404.8 278.1 h0.9 M540.4 278.1 h-0.9 M404.8 273.1 h0.9 M540.4 273.1 h-0.9 M404.8 264 h0.9 M540.4 264 h-0.9 M404.8 259.9 h0.9 M540.4 259.9 h-0.9 M404.8 256 h0.9 M540.4 256 h-0.9 M404.8 252.4 h0.9 M540.4 252.4 h-0.9 M404.8 245.6 h0.9 M540.4 245.6 h-0.9 M404.8 242.5 h0.9 M540.4 242.5 h-0.9 M404.8 239.4 h0.9 M540.4 239.4 h-0.9 M404.8 236.6 h0.9 M540.4 236.6 h-0.9 M404.8 231.1 h0.9 M540.4 231.1 h-0.9 M404.8 228.6 h0.9 M540.4 228.6 h-0.9 M404.8 226.1 h0.9 M540.4 226.1 h-0.9 M404.8 223.7 h0.9 M540.4 223.7 h-0.9 M404.8 219.2 h0.9 M540.4 219.2 h-0.9 M404.8 217.1 h0.9 M540.4 217.1 h-0.9 M404.8 215 h0.9 M540.4 215 h-0.9 M404.8 213 h0.9 M540.4 213 h-0.9 M404.8 209.1 h0.9 M540.4 209.1 h-0.9 M404.8 207.2 h0.9 M540.4 207.2 h-0.9 M404.8 205.4 h0.9 M540.4 205.4 h-0.9 M404.8 203.7 h0.9 M540.4 203.7 h-0.9 M404.8 200.3 h0.9 M540.4 200.3 h-0.9 M404.8 198.7 h0.9 M540.4 198.7 h-0.9 M404.8 197.1 h0.9 M540.4 197.1 h-0.9 M404.8 195.5 h0.9 M540.4 195.5 h-0.9 M404.8 192.5 h0.9 M540.4 192.5 h-0.9 M404.8 191 h0.9 M540.4 191 h-0.9 M404.8 189.6 h0.9 M540.4 189.6 h-0.9 M404.8 188.2 h0.9 M540.4 188.2 h-0.9 M404.8 185.5 h0.9 M540.4 185.5 h-0.9"/>
<text class="ex" x="405" y="181.5" textLength="17.2" lengthAdjust="spacing">×10<tspan dy="-3.2" font-size="6px">4</tspan></text>
<text class="yl" text-anchor="middle" transform="translate(387.8 252) rotate(-90)">Average fitness</text>
<text class="lb" text-anchor="middle" x="472.6" y="338.6">Iterations</text>
<text class="tt" x="453.3" y="350.8" textLength="16" lengthAdjust="spacingAndGlyphs">F25</text>
</g>
<g>
<rect class="ax" x="26.8" y="364" width="134.9" height="132.5"/>
<path class="cv" style="stroke-width:1" stroke="#0E86E2" d="M26.8 364 L27.3 397.27 L27.55 410.65 L27.78 417 L28.55 424.01 L29.05 427.53 L29.55 430.36 L30.3 433.57 L31.05 435.9 L33.8 442.59 L34.55 444.19 L35.55 446.09 L37.05 448.52 L37.96 449.78 L38.97 451.05 L41 453.28 L42.01 454.28 L44.04 456.08 L46.07 457.64 L47.09 458.33 L49.11 459.57 L52.16 461.13 L56.21 462.82 L63.31 465.36 L67.37 466.65 L69.4 467.18 L71.43 467.62 L76.5 468.43 L82.59 469.15 L89.69 469.8 L99.83 470.55 L108.96 471.07 L124.17 471.7 L139.39 472.22 L151.56 472.51 L161.7 472.63"/>
<path class="cv" stroke="#E2581A" d="M26.8 364 L27.05 372.53 L27.13 373.8 L27.3 375 L28.05 378.12 L29.09 381.98 L30.86 389.41 L31.87 393.19 L33.35 398.02 L34.55 401.41 L35.3 403.22 L35.93 404.43 L36.8 405.81 L39.99 409.91 L42.01 412.22 L45.06 415.3 L47.09 417.14 L49.07 418.64 L52.16 420.54 L54.19 421.64 L56.21 422.59 L58.89 423.54 L62.3 424.43 L66.36 425.26 L71.43 426.08 L77.51 426.93 L83.6 427.66 L90.7 428.37 L99.83 429.13 L107.94 429.7 L118.09 430.28 L128.23 430.77 L135.33 431.02 L144.46 431.21 L153.59 431.35 L161.7 431.4"/>
<path class="cv" stroke="#F2B521" d="M26.8 364 L27.05 416.95 L27.13 423.54 L27.55 430.91 L28.05 437.63 L28.55 442.54 L28.83 444.62 L29.3 447.32 L29.84 449.48 L31.87 455.46 L32.89 458.04 L33.55 459.46 L34.3 460.8 L34.91 461.69 L35.55 462.43 L36.55 463.27 L37.96 464.18 L38.97 464.71 L41 465.55 L44.04 466.6 L46.07 467.21 L49.11 467.99 L52.34 468.71 L56.21 469.45 L63.31 470.62 L68.39 471.56 L82.59 474.43 L90.7 476.2 L94.76 477 L97.8 477.49 L99.83 477.75 L110.99 478.75 L115.04 479.25 L117.07 479.59 L120.11 480.23 L125.19 481.51 L137.36 484.95 L140.4 485.96 L143.44 487.12 L144.46 487.56 L146.49 488.63 L152.57 492.52 L156.63 494.72 L159.67 496.23 L160.69 496.5 L161.7 496.5"/>
<path class="cv" stroke="#8A2FA0" d="M26.8 364 L27.3 380.8 L27.45 384.27 L28.05 393.88 L28.55 400.19 L28.83 402.78 L29.05 404.28 L29.3 405.32 L29.42 405.54 L30.05 406.2 L31.05 406.98 L31.87 407.44 L32.8 407.82 L35.3 408.57 L39.99 410.35 L44.04 411.64 L46.07 412.15 L48.1 412.57 L56.21 413.85 L59.26 414.47 L62.3 415.34 L69.4 417.83 L71.98 418.64 L75.49 419.54 L81.57 420.96 L85.63 422.08 L88.67 423.14 L94.76 425.56 L97.8 426.69 L102.87 428.29 L113.01 431.25 L119.1 433.21 L132.29 437.77 L147.5 443.25 L161.7 448.09"/>
<path class="cv" stroke="#7AB22F" d="M26.8 364 L27.55 405.1 L27.78 410.45 L28.55 415.6 L29.05 418.19 L29.8 421.16 L30.55 423.26 L31.3 424.76 L33.3 427.66 L34.8 429.43 L35.55 430.17 L36.55 431.02 L38.3 432.2 L39.24 432.71 L41 433.51 L44.04 434.61 L46.07 435.2 L50.13 436.25 L56.21 437.65 L61.29 438.62 L65.34 439.24 L72.44 440.1 L78.53 440.67 L89.69 441.32 L96.79 441.54 L161.7 441.54"/>
<path class="cv" stroke="#4CC0F2" d="M26.8 364 L27.3 380.71 L27.8 390.36 L28.55 401.06 L28.83 403.87 L29.05 405.57 L29.3 406.83 L29.8 407.96 L30.55 409.25 L31.3 410.25 L32.05 411.03 L33.05 411.82 L35.55 413.41 L39.99 416.99 L42.01 418.46 L43.03 419.08 L44.04 419.62 L45.06 420.04 L46.07 420.34 L48.1 420.78 L54.19 421.65 L56.21 422.04 L58.24 422.53 L64.33 424.24 L71.43 426.08 L78.53 427.81 L83.6 428.75 L96.79 430.52 L102.87 431.62 L112 433.61 L134.31 439.07 L139.39 440.26 L142.43 440.91 L148.51 441.99 L151.56 442.61 L154.6 443.41 L156.63 444.13 L158.66 444.99 L161.7 446.45"/>
<path class="cv" stroke="#A8152F" d="M26.8 364 L27.45 384.27 L28.05 395.92 L28.55 402.53 L28.83 404.16 L29.3 405.79 L29.8 407.12 L30.3 408.06 L30.55 408.37 L30.8 408.58 L31.05 408.68 L32.55 408.92 L34.3 409.01 L161.7 409.01"/>
<path class="cv" stroke="#0878CC" d="M26.8 364 L27.45 384.27 L28.05 395.9 L28.55 402.52 L28.83 404.16 L29.3 405.83 L29.8 407.21 L30.3 408.17 L30.55 408.49 L30.8 408.71 L31.05 408.82 L32.55 409.05 L34.3 409.14 L161.7 409.14"/>
<text class="tk" text-anchor="middle" x="26.8" y="506.6">0</text>
<text class="tk" text-anchor="middle" x="53.8" y="506.6">100</text>
<text class="tk" text-anchor="middle" x="80.8" y="506.6">200</text>
<text class="tk" text-anchor="middle" x="107.7" y="506.6">300</text>
<text class="tk" text-anchor="middle" x="134.7" y="506.6">400</text>
<text class="tk" text-anchor="middle" x="161.7" y="506.6">500</text>
<text class="tk" text-anchor="end" x="24.6" y="377.6">1.6</text>
<text class="tk" text-anchor="end" x="24.6" y="391.3">1.4</text>
<text class="tk" text-anchor="end" x="24.6" y="407.7">1.2</text>
<text class="tk" text-anchor="end" x="24.6" y="426.6">1</text>
<text class="tk" text-anchor="end" x="24.6" y="450.2">0.8</text>
<text class="tk" text-anchor="end" x="24.6" y="480.6">0.6</text>
<path class="tm" d="M53.8 496.5 v-1.9 M53.8 364 v1.9 M80.8 496.5 v-1.9 M80.8 364 v1.9 M107.7 496.5 v-1.9 M107.7 364 v1.9 M134.7 496.5 v-1.9 M134.7 364 v1.9 M26.8 374.5 h1.9 M161.7 374.5 h-1.9 M26.8 388.2 h1.9 M161.7 388.2 h-1.9 M26.8 404.6 h1.9 M161.7 404.6 h-1.9 M26.8 423.5 h1.9 M161.7 423.5 h-1.9 M26.8 447.1 h1.9 M161.7 447.1 h-1.9 M26.8 477.5 h1.9 M161.7 477.5 h-1.9 M26.8 492.4 h0.9 M161.7 492.4 h-0.9 M26.8 484.6 h0.9 M161.7 484.6 h-0.9 M26.8 470.6 h0.9 M161.7 470.6 h-0.9 M26.8 464.2 h0.9 M161.7 464.2 h-0.9 M26.8 458.2 h0.9 M161.7 458.2 h-0.9 M26.8 452.5 h0.9 M161.7 452.5 h-0.9 M26.8 442 h0.9 M161.7 442 h-0.9 M26.8 437.1 h0.9 M161.7 437.1 h-0.9 M26.8 432.5 h0.9 M161.7 432.5 h-0.9 M26.8 428 h0.9 M161.7 428 h-0.9 M26.8 419.6 h0.9 M161.7 419.6 h-0.9 M26.8 415.6 h0.9 M161.7 415.6 h-0.9 M26.8 411.8 h0.9 M161.7 411.8 h-0.9 M26.8 408.1 h0.9 M161.7 408.1 h-0.9 M26.8 401.1 h0.9 M161.7 401.1 h-0.9 M26.8 397.8 h0.9 M161.7 397.8 h-0.9 M26.8 394.5 h0.9 M161.7 394.5 h-0.9 M26.8 391.4 h0.9 M161.7 391.4 h-0.9 M26.8 385.4 h0.9 M161.7 385.4 h-0.9 M26.8 382.5 h0.9 M161.7 382.5 h-0.9 M26.8 379.7 h0.9 M161.7 379.7 h-0.9 M26.8 377 h0.9 M161.7 377 h-0.9 M26.8 371.7 h0.9 M161.7 371.7 h-0.9 M26.8 369.2 h0.9 M161.7 369.2 h-0.9 M26.8 366.7 h0.9 M161.7 366.7 h-0.9"/>
<text class="ex" x="27.5" y="362" textLength="17.2" lengthAdjust="spacing">×10<tspan dy="-3.2" font-size="6px">4</tspan></text>
<text class="yl" text-anchor="middle" transform="translate(9.8 430) rotate(-90)">Average fitness</text>
<text class="lb" text-anchor="middle" x="94.2" y="517.5">Iterations</text>
<text class="tt" x="77" y="529.1" textLength="16" lengthAdjust="spacingAndGlyphs">F26</text>
</g>
<g>
<rect class="ax" x="217.3" y="361.4" width="132" height="130.6"/>
<path class="cv" style="stroke-width:1" stroke="#0E86E2" d="M217.3 361.4 L217.8 402.76 L217.96 410.45 L218.55 428.18 L219.05 439.66 L219.55 448.41 L220.05 454.82 L220.58 459.54 L221.55 465.56 L222.34 469.35 L223.3 472.84 L223.8 474.26 L224.3 475.44 L225.8 478.27 L227.38 480.65 L228.3 481.78 L229.05 482.56 L230.4 483.66 L231.09 484.09 L232.41 484.77 L233.42 485.23 L235.44 486.01 L238.46 486.88 L240.94 487.36 L245.51 488 L250.55 488.52 L255.59 488.89 L269.7 489.61 L281.79 489.96 L315.04 490.22 L349.3 490.31"/>
<path class="cv" stroke="#E2581A" d="M217.3 361.4 L217.55 361.64 L218.05 362.49 L218.55 363.73 L218.8 364.63 L219.32 366.98 L221.05 376.25 L221.8 379.27 L222.8 382.88 L226.8 396.44 L228.05 399.86 L229.39 403.08 L230.4 405.23 L231.41 407.16 L232.41 408.87 L234.43 411.84 L236.45 414.44 L238.46 416.71 L240.48 418.56 L242.49 420.19 L243.5 420.91 L245.51 422.12 L248.54 423.55 L250.55 424.33 L252.57 424.96 L255.59 425.65 L259.62 426.33 L269.7 427.71 L275.74 428.48 L280.78 429.04 L284.81 429.4 L289.85 429.73 L316.05 431.08 L333.18 431.81 L349.3 432.38"/>
<path class="cv" stroke="#F2B521" d="M217.3 361.4 L217.8 417.77 L217.96 426.82 L218.55 443.39 L218.8 448.86 L219.3 457.52 L219.8 463.61 L220.3 467.7 L220.8 470.45 L221.55 473.74 L222.34 476.46 L222.8 477.74 L223.3 478.89 L224.05 480.21 L224.52 480.82 L225.3 481.63 L226.05 482.31 L227.05 483.08 L228.8 484.12 L231.09 485.07 L234.43 486.11 L237.45 486.81 L240.48 487.3 L245.51 487.87 L250.55 488.34 L259.62 488.96 L270.7 489.46 L281.79 489.8 L316.05 490.62 L331.16 491.17 L349.3 491.94"/>
<path class="cv" stroke="#8A2FA0" d="M217.3 361.4 L217.8 380.03 L218.3 391.93 L219.05 405.33 L219.3 408.27 L219.55 410.21 L220.05 412.41 L220.8 415.11 L221.33 416.65 L222.05 418.33 L222.8 419.7 L223.8 421.08 L225.05 422.47 L226.37 423.68 L227.55 424.59 L228.8 425.4 L234.37 428.45 L240.48 432.23 L242.49 433.29 L244.23 434.02 L246.52 434.75 L253.57 436.5 L257.61 437.65 L273.73 442.54 L277.76 443.86 L280.78 444.99 L282.8 445.89 L284.81 446.89 L290.86 450.1 L292.87 451.09 L294.89 451.98 L300.93 454.46 L316.05 460.27 L322.09 462.49 L329.15 464.86 L339.22 468.01 L349.3 471"/>
<path class="cv" stroke="#7AB22F" d="M217.3 361.4 L217.8 419.42 L217.96 426.82 L218.31 431.25 L218.8 435.97 L219.32 439.44 L220.05 442.62 L221.05 445.77 L222.05 449.37 L222.8 451.8 L223.55 453.98 L224.35 456.03 L225.05 457.57 L225.8 458.96 L227.3 461.15 L228.3 462.4 L229.3 463.52 L230.4 464.61 L231.41 465.51 L232.41 466.32 L234.37 467.73 L237.45 469.67 L240.48 471.26 L242.49 472.09 L243.5 472.43 L247.53 473.42 L251.56 474.16 L256.6 474.84 L264.66 475.7 L269.7 476.09 L273.78 476.23 L308.99 476.48 L349.3 476.56"/>
<path class="cv" stroke="#4CC0F2" d="M217.3 361.4 L217.96 384.27 L218.55 399.18 L219.05 409.55 L219.32 413.77 L219.6 417 L220.3 422.46 L220.8 425.51 L221.33 428.08 L222.05 430.6 L222.8 432.39 L223.55 433.75 L224.55 435.15 L226.05 436.97 L227.05 437.99 L229.45 440.23 L231.41 442.42 L232.41 443.46 L233.42 444.18 L234.43 444.65 L236.45 445.35 L239.47 446.17 L244.51 447.24 L245.54 447.57 L247.51 448.74 L250.55 449.19 L254.58 449.57 L264.66 450.12 L282.8 451.44 L298.92 452.28 L306.98 452.79 L315.04 453.49 L318.06 453.86 L320.08 454.18 L323.1 454.75 L326.12 455.42 L330.15 456.42 L332.17 457 L335.19 458 L341.24 460.21 L345.27 461.78 L349.3 463.47"/>
<path class="cv" stroke="#A8152F" d="M217.3 361.4 L217.8 377.34 L218.3 387.64 L219.05 399.29 L219.3 401.9 L219.55 403.67 L220.3 406.81 L221.05 409.34 L221.8 411.35 L222.3 412.44 L222.8 413.35 L223.55 414.41 L224.35 415.23 L226.05 416.44 L227.38 417.15 L228.38 417.5 L229.39 417.65 L246.52 417.99 L264.66 418.26 L301.94 418.56 L349.3 418.64"/>
<path class="cv" stroke="#0878CC" d="M217.3 361.4 L217.8 375.04 L217.96 377.73 L218.55 384.55 L219.05 389.4 L219.55 393.42 L220.05 396.59 L220.55 398.9 L220.8 399.72 L221.24 400.64 L222.05 401.6 L223.05 402.56 L224.05 403.28 L225.05 403.73 L225.55 403.85 L226.17 403.91 L260.63 404.11 L298.92 404.21 L349.3 404.24"/>
<text class="tk" text-anchor="middle" x="217.3" y="502.1">0</text>
<text class="tk" text-anchor="middle" x="243.7" y="502.1">100</text>
<text class="tk" text-anchor="middle" x="270.1" y="502.1">200</text>
<text class="tk" text-anchor="middle" x="296.5" y="502.1">300</text>
<text class="tk" text-anchor="middle" x="322.9" y="502.1">400</text>
<text class="tk" text-anchor="middle" x="349.3" y="502.1">500</text>
<text class="tk" text-anchor="end" x="215.1" y="376.6">5500</text>
<text class="tk" text-anchor="end" x="215.1" y="398.8">5000</text>
<text class="tk" text-anchor="end" x="215.1" y="422.7">4500</text>
<text class="tk" text-anchor="end" x="215.1" y="449.6">4000</text>
<text class="tk" text-anchor="end" x="215.1" y="479.7">3500</text>
<path class="tm" d="M243.7 492 v-1.9 M243.7 361.4 v1.9 M270.1 492 v-1.9 M270.1 361.4 v1.9 M296.5 492 v-1.9 M296.5 361.4 v1.9 M322.9 492 v-1.9 M322.9 361.4 v1.9 M217.3 373.5 h1.9 M349.3 373.5 h-1.9 M217.3 395.7 h1.9 M349.3 395.7 h-1.9 M217.3 419.6 h1.9 M349.3 419.6 h-1.9 M217.3 446.5 h1.9 M349.3 446.5 h-1.9 M217.3 476.6 h1.9 M349.3 476.6 h-1.9 M217.3 490.2 h0.9 M349.3 490.2 h-0.9 M217.3 483.4 h0.9 M349.3 483.4 h-0.9 M217.3 470.4 h0.9 M349.3 470.4 h-0.9 M217.3 464.1 h0.9 M349.3 464.1 h-0.9 M217.3 458 h0.9 M349.3 458 h-0.9 M217.3 452.1 h0.9 M349.3 452.1 h-0.9 M217.3 440.7 h0.9 M349.3 440.7 h-0.9 M217.3 435.2 h0.9 M349.3 435.2 h-0.9 M217.3 429.9 h0.9 M349.3 429.9 h-0.9 M217.3 424.6 h0.9 M349.3 424.6 h-0.9 M217.3 414.5 h0.9 M349.3 414.5 h-0.9 M217.3 409.6 h0.9 M349.3 409.6 h-0.9 M217.3 404.8 h0.9 M349.3 404.8 h-0.9 M217.3 400.1 h0.9 M349.3 400.1 h-0.9 M217.3 391 h0.9 M349.3 391 h-0.9 M217.3 386.5 h0.9 M349.3 386.5 h-0.9 M217.3 382.2 h0.9 M349.3 382.2 h-0.9 M217.3 377.9 h0.9 M349.3 377.9 h-0.9 M217.3 369.7 h0.9 M349.3 369.7 h-0.9 M217.3 365.6 h0.9 M349.3 365.6 h-0.9"/>
<text class="yl" text-anchor="middle" transform="translate(196 428) rotate(-90)">Average fitness</text>
<text class="lb" text-anchor="middle" x="283.3" y="513">Iterations</text>
<text class="tt" x="263.7" y="524.4" textLength="16" lengthAdjust="spacingAndGlyphs">F27</text>
</g>
<g>
<rect class="ax" x="410.6" y="362.5" width="129.6" height="128.8"/>
<path class="cv" style="stroke-width:1" stroke="#0E86E2" d="M410.6 362.5 L411.1 413.57 L411.25 420.27 L411.85 428.28 L412.1 430.8 L412.62 434.87 L413.35 438.56 L414.35 442.44 L415.35 446.8 L416.35 450.58 L417.85 455.34 L419.85 460.64 L421.1 463.61 L422.35 466.33 L423.76 469.08 L424.78 470.84 L425.79 472.41 L426.8 473.82 L427.81 475.12 L429.84 477.42 L430.85 478.43 L432.47 479.83 L435.91 482.41 L437.94 483.72 L438.95 484.3 L440.98 485.26 L441.99 485.64 L444.01 486.23 L447.05 486.98 L451.1 487.75 L455.15 488.32 L462.24 489.08 L469.33 489.64 L479.45 490.21 L490.59 490.69 L498.69 490.92 L510.84 491.09 L526.03 491.24 L540.2 491.29"/>
<path class="cv" stroke="#E2581A" d="M410.6 362.5 L411.1 393.34 L411.25 397.36 L411.61 400.32 L412.1 403.31 L412.35 404.48 L412.85 406.25 L414.35 409.94 L415.66 413.98 L417.1 417.93 L418.6 421.64 L420.1 425.1 L421.85 428.82 L423.76 432.58 L428.83 441.86 L430.85 445.39 L432.88 448.74 L434.9 451.82 L435.91 453.24 L437.94 455.92 L440.98 459.61 L443 461.87 L445.53 464.45 L449.08 467.75 L451.1 469.48 L453.12 471.07 L455.15 472.52 L457.18 473.85 L460.21 475.72 L462.24 476.87 L464.26 477.94 L466.29 478.92 L468.31 479.81 L471.35 481.01 L476.41 482.81 L481.48 484.3 L486.54 485.45 L493.63 486.72 L499.7 487.54 L506.79 488.26 L513.88 488.81 L521.98 489.2 L532.1 489.54 L540.2 489.65"/>
<path class="cv" stroke="#F2B521" d="M410.6 362.5 L410.93 423.54 L411.35 435.61 L411.85 444.22 L412.35 449.1 L413.6 458.14 L414.35 462.56 L415.1 466.03 L415.85 468.59 L416.35 469.83 L417.1 471.43 L417.85 472.82 L418.6 474 L419.35 475 L420.1 475.8 L420.73 476.33 L421.6 476.92 L423.76 478.07 L425.79 478.88 L427.81 479.49 L430.85 480.19 L433.89 480.75 L437.94 481.33 L441.99 481.77 L448.06 482.27 L455.15 482.73 L474.39 483.76 L503.75 485.22 L540.2 487.36"/>
<path class="cv" stroke="#8A2FA0" d="M410.6 362.5 L411.1 405.53 L411.25 410.45 L411.85 413.15 L412.35 414.88 L412.85 416.2 L413.35 417.21 L414.1 418.26 L415.85 419.93 L417.6 421.95 L419.1 423.48 L420.73 424.91 L422.35 426.17 L423.76 427.13 L425.94 428.45 L428.83 429.88 L433.89 431.89 L435.74 432.71 L438.95 434.3 L443 436.45 L453.12 442.16 L464.26 448.99 L468.31 451.32 L472.36 453.43 L481.48 457.85 L485.53 460 L489.58 462.37 L499.7 468.59 L507.8 473.28 L511.85 475.47 L514.08 476.56 L517.93 478.27 L520.96 479.52 L525.01 481.05 L529.06 482.45 L533.11 483.74 L537.16 484.92 L540.2 485.73"/>
<path class="cv" stroke="#7AB22F" d="M410.6 362.5 L411.1 408.07 L411.25 413.73 L411.61 417.01 L412.1 420.65 L412.85 424.73 L413.64 427.53 L414.1 428.71 L415.35 431.3 L415.85 432.5 L417.6 437.69 L419.1 441.76 L420.85 445.96 L422.6 449.58 L424.78 453.38 L425.79 454.95 L427.81 457.79 L429.21 459.54 L430.85 461.45 L432.88 463.58 L433.89 464.54 L434.9 465.42 L436.93 466.98 L439.96 469.03 L443 470.78 L445.03 471.76 L447.05 472.62 L451.1 474.11 L454.14 474.98 L459.2 476.02 L464.26 476.82 L467.3 477.14 L473.38 477.52 L478.44 477.75 L483.5 477.87 L515.9 477.81 L540.2 477.54"/>
<path class="cv" stroke="#4CC0F2" d="M410.6 362.5 L411.1 405.46 L411.25 410.45 L411.85 413.6 L412.35 415.65 L412.85 417.25 L413.64 419.04 L414.1 419.77 L414.6 420.39 L417.1 422.89 L418.35 424 L419.71 425 L421.6 426.15 L424.78 427.81 L429.84 430.62 L431.86 431.65 L433.89 432.6 L438.95 434.6 L443 436.09 L446.04 437.06 L449.08 437.81 L451.1 438.16 L454.14 438.46 L467.3 439.18 L473.38 439.68 L483.5 440.75 L492.61 441.9 L497.68 442.64 L502.74 443.48 L514.89 445.97 L518.94 446.75 L530.08 448.73 L540.2 450.38"/>
<path class="cv" stroke="#A8152F" d="M410.6 362.5 L411.25 394.09 L411.85 410.34 L412.1 414.33 L412.35 415.88 L413.1 418.49 L413.64 419.66 L414.1 420.25 L414.35 420.41 L415.85 420.68 L417.69 420.79 L540.2 420.8"/>
<path class="cv" stroke="#0878CC" d="M410.6 362.5 L411.25 394.09 L411.61 404.65 L411.85 410.32 L412.1 414.32 L412.35 415.89 L413.1 418.56 L413.64 419.77 L414.1 420.37 L414.35 420.54 L415.85 420.81 L417.69 420.93 L540.2 420.93"/>
<text class="tk" style="font-size:7.6px" text-anchor="middle" x="410.6" y="501.4">0</text>
<text class="tk" style="font-size:7.6px" text-anchor="middle" x="436.5" y="501.4">100</text>
<text class="tk" style="font-size:7.6px" text-anchor="middle" x="462.4" y="501.4">200</text>
<text class="tk" style="font-size:7.6px" text-anchor="middle" x="488.4" y="501.4">300</text>
<text class="tk" style="font-size:7.6px" text-anchor="middle" x="514.3" y="501.4">400</text>
<text class="tk" style="font-size:7.6px" text-anchor="middle" x="540.2" y="501.4">500</text>
<text class="tk" style="font-size:7.6px" text-anchor="end" x="408.4" y="371.7">14000</text>
<text class="tk" style="font-size:7.6px" text-anchor="end" x="408.4" y="385.1">12000</text>
<text class="tk" style="font-size:7.6px" text-anchor="end" x="408.4" y="400.5">10000</text>
<text class="tk" style="font-size:7.6px" text-anchor="end" x="408.4" y="419.1">8000</text>
<text class="tk" style="font-size:7.6px" text-anchor="end" x="408.4" y="443.7">6000</text>
<text class="tk" style="font-size:7.6px" text-anchor="end" x="408.4" y="477.4">4000</text>
<path class="tm" d="M436.5 491.3 v-1.9 M436.5 362.5 v1.9 M462.4 491.3 v-1.9 M462.4 362.5 v1.9 M488.4 491.3 v-1.9 M488.4 362.5 v1.9 M514.3 491.3 v-1.9 M514.3 362.5 v1.9 M410.6 368.6 h1.9 M540.2 368.6 h-1.9 M410.6 382 h1.9 M540.2 382 h-1.9 M410.6 397.4 h1.9 M540.2 397.4 h-1.9 M410.6 416 h1.9 M540.2 416 h-1.9 M410.6 440.6 h1.9 M540.2 440.6 h-1.9 M410.6 474.3 h1.9 M540.2 474.3 h-1.9 M410.6 483.4 h0.9 M540.2 483.4 h-0.9 M410.6 466.5 h0.9 M540.2 466.5 h-0.9 M410.6 459.1 h0.9 M540.2 459.1 h-0.9 M410.6 452.4 h0.9 M540.2 452.4 h-0.9 M410.6 446.1 h0.9 M540.2 446.1 h-0.9 M410.6 434.9 h0.9 M540.2 434.9 h-0.9 M410.6 429.8 h0.9 M540.2 429.8 h-0.9 M410.6 424.9 h0.9 M540.2 424.9 h-0.9 M410.6 420.4 h0.9 M540.2 420.4 h-0.9 M410.6 412 h0.9 M540.2 412 h-0.9 M410.6 408 h0.9 M540.2 408 h-0.9 M410.6 404.3 h0.9 M540.2 404.3 h-0.9 M410.6 400.7 h0.9 M540.2 400.7 h-0.9 M410.6 393.9 h0.9 M540.2 393.9 h-0.9 M410.6 390.8 h0.9 M540.2 390.8 h-0.9 M410.6 387.7 h0.9 M540.2 387.7 h-0.9 M410.6 384.7 h0.9 M540.2 384.7 h-0.9 M410.6 379.1 h0.9 M540.2 379.1 h-0.9 M410.6 376.4 h0.9 M540.2 376.4 h-0.9 M410.6 373.8 h0.9 M540.2 373.8 h-0.9 M410.6 371.3 h0.9 M540.2 371.3 h-0.9 M410.6 366.5 h0.9 M540.2 366.5 h-0.9 M410.6 364.2 h0.9 M540.2 364.2 h-0.9"/>
<text class="yl" text-anchor="middle" transform="translate(385 428) rotate(-90)">Average fitness</text>
<text class="lb" text-anchor="middle" x="475.4" y="512.3">Iterations</text>
<text class="tt" x="453.2" y="523.4" textLength="16" lengthAdjust="spacingAndGlyphs">F28</text>
</g>
<g>
<rect class="ax" x="27" y="536.6" width="134.6" height="128.7"/>
<path class="cv" style="stroke-width:1" stroke="#0E86E2" d="M27 537.11 L27.25 555.22 L27.49 606.82 L27.54 639.55 L27.75 645.11 L28.01 647.67 L28.5 649.48 L29.02 650.83 L29.75 651.98 L30.75 653.04 L31.75 653.88 L32.75 654.54 L34 655.2 L36 656.13 L39.14 657.33 L41.17 657.94 L43.19 658.46 L47.24 659.28 L53.31 660.2 L59.38 660.93 L66.47 661.59 L73.55 662.12 L79.63 662.43 L103.91 663.08 L117.07 663.62 L125.17 663.85 L133.26 663.98 L161.6 663.98"/>
<path class="cv" stroke="#E2581A" d="M27 537.11 L27.32 539.67 L27.5 542.22 L28.29 559.01 L29 571.55 L29.5 579.03 L30.04 585.57 L31.5 601.27 L32 606.05 L32.5 609.82 L33.25 614.45 L34.5 621.19 L36.5 630.7 L37.12 632.99 L37.75 634.87 L38.5 636.78 L40.16 640.28 L41.17 642.06 L42 643.18 L43.19 644.33 L44.2 645.11 L46.23 646.49 L48.25 647.77 L49.26 648.27 L50.28 648.66 L53.31 649.63 L58.37 650.87 L63.43 651.84 L68.49 652.6 L74.57 653.3 L82.66 654.04 L86.71 654.27 L105.94 654.71 L132.25 655.8 L149.46 656 L161.6 656.27"/>
<path class="cv" stroke="#F2B521" d="M27 537.11 L27.25 555.22 L27.49 606.82 L27.54 639.55 L27.73 649.73 L28.01 651.39 L28.5 653.22 L29 654.17 L30 655.19 L30.75 655.78 L31.5 656.23 L32.5 656.69 L34.5 657.47 L37.5 658.38 L41.17 659.16 L46.23 659.95 L52.3 660.7 L59.38 661.41 L67.48 662.09 L79.63 662.88 L102.9 663.89 L118.08 664.79 L129.22 665.3 L161.6 665.3"/>
<path class="cv" stroke="#8A2FA0" d="M27 537.11 L27.25 555.93 L27.49 606.82 L27.54 635.18 L27.75 636.81 L28 638.09 L28.25 638.81 L28.5 639.18 L29.25 639.91 L30 640.48 L30.75 640.88 L32.25 641.45 L33.5 641.82 L41.17 643.72 L45.22 644.62 L48.25 645.21 L51.29 645.63 L57.36 646.27 L65.46 646.95 L94.81 648.92 L104.8 649.73 L108.97 650.2 L119.09 651.58 L132.25 653.18 L161.6 656.13"/>
<path class="cv" stroke="#7AB22F" d="M27 537.11 L27.25 555.56 L27.49 606.82 L27.54 637.36 L27.75 639.78 L28 641.66 L28.25 642.71 L28.5 643.27 L29.75 645.46 L30.25 646.14 L31.05 646.97 L31.81 647.55 L32.75 648.11 L33.75 648.58 L34.75 648.96 L38.5 650.11 L42 650.89 L46.23 651.55 L50.28 652.01 L56.35 652.55 L64.45 653.11 L72.54 653.54 L81.65 653.92 L103.91 654.64 L118.08 655.22 L129.22 655.5 L150.47 655.52 L155.53 655.28 L161.6 654.82"/>
<path class="cv" stroke="#4CC0F2" d="M27 537.11 L27.25 555.88 L27.49 606.82 L27.54 635.47 L27.75 636.17 L28 636.69 L28.25 636.97 L31.08 638.82 L31.5 639.25 L32.75 640.83 L33.25 641.28 L34.25 641.87 L35.5 642.45 L37.25 643.06 L39.14 643.58 L47.24 645.42 L51.29 646.11 L58.37 646.99 L67.48 647.87 L80.64 648.87 L98.85 650.13 L106.95 650.79 L146.42 654.75 L161.6 656.42"/>
<path class="cv" stroke="#A8152F" d="M27 537.11 L27.25 556.07 L27.49 606.82 L27.54 634.45 L27.75 636.83 L28 637.88 L28.75 638.61 L29.25 638.93 L29.75 639.15 L30.75 639.38 L35.5 639.54 L41.17 639.65 L90.76 639.69 L115 639.55 L116.06 639.72 L117.07 640.01 L117.91 640.13 L137.31 640.24 L161.6 640.27"/>
<path class="cv" stroke="#0878CC" d="M27 537.11 L27.25 556.21 L27.49 606.82 L27.54 633.73 L27.75 636.21 L28 637.32 L28.17 637.51 L28.75 637.87 L29.25 638.08 L29.75 638.19 L30.35 638.24 L104.93 638.23 L161.6 638.09"/>
<text class="tk" text-anchor="middle" x="27" y="675.4">0</text>
<text class="tk" text-anchor="middle" x="53.9" y="675.4">100</text>
<text class="tk" text-anchor="middle" x="80.8" y="675.4">200</text>
<text class="tk" text-anchor="middle" x="107.8" y="675.4">300</text>
<text class="tk" text-anchor="middle" x="134.7" y="675.4">400</text>
<text class="tk" text-anchor="middle" x="161.6" y="675.4">500</text>
<text class="tk" style="font-size:8.3px" text-anchor="end" x="24.4" y="548.5">10<tspan dy="-3.3" font-size="6px">5</tspan></text>
<text class="tk" style="font-size:8.3px" text-anchor="end" x="24.4" y="635.7">10<tspan dy="-3.3" font-size="6px">4</tspan></text>
<path class="tm" d="M53.9 665.3 v-1.9 M53.9 536.6 v1.9 M80.8 665.3 v-1.9 M80.8 536.6 v1.9 M107.8 665.3 v-1.9 M107.8 536.6 v1.9 M134.7 665.3 v-1.9 M134.7 536.6 v1.9 M27 544.6 h1.9 M161.6 544.6 h-1.9 M27 631.8 h1.9 M161.6 631.8 h-1.9 M27 658 h0.9 M161.6 658 h-0.9 M27 651.1 h0.9 M161.6 651.1 h-0.9 M27 645.3 h0.9 M161.6 645.3 h-0.9 M27 640.3 h0.9 M161.6 640.3 h-0.9 M27 635.8 h0.9 M161.6 635.8 h-0.9 M27 605.6 h0.9 M161.6 605.6 h-0.9 M27 590.2 h0.9 M161.6 590.2 h-0.9 M27 579.3 h0.9 M161.6 579.3 h-0.9 M27 570.8 h0.9 M161.6 570.8 h-0.9 M27 563.9 h0.9 M161.6 563.9 h-0.9 M27 558.1 h0.9 M161.6 558.1 h-0.9 M27 553.1 h0.9 M161.6 553.1 h-0.9 M27 548.6 h0.9 M161.6 548.6 h-0.9"/>
<text class="yl" text-anchor="middle" transform="translate(9.8 603) rotate(-90)">Average fitness</text>
<text class="lb" text-anchor="middle" x="94" y="685.5">Iterations</text>
<text class="tt" x="77" y="697.9" textLength="16" lengthAdjust="spacingAndGlyphs">F29</text>
</g>
<g>
<rect class="ax" x="405.6" y="537.7" width="132.4" height="129.6"/>
<path class="cv" style="stroke-width:1" stroke="#0E86E2" d="M405.6 543.18 L406.1 550.76 L406.85 558.38 L407.85 566.14 L408.85 572.35 L409.64 575.91 L410.65 579.55 L412.6 585.51 L414.35 590.2 L416.6 595.51 L418.74 600.05 L420.9 604.08 L421.77 605.55 L423.79 608.64 L427.84 614.27 L429.86 616.92 L431.45 618.85 L432.89 620.48 L434.91 622.61 L436.72 624.38 L438.95 626.42 L440.97 628.11 L443 629.53 L447.27 632.03 L451.08 634.05 L452.55 634.93 L454.11 636.11 L456.13 637.86 L457.82 639.15 L459.17 639.92 L462.2 641.47 L463.1 642.05 L464.22 643.01 L467.25 646.29 L468.26 647.23 L470.28 648.75 L472.31 650.05 L473.32 650.59 L474.33 651.04 L476.35 651.79 L479.38 652.73 L482.41 653.57 L488.48 655.02 L495.55 656.37 L502.63 657.44 L509.7 658.3 L516.78 658.94 L527.89 659.71 L538 660.24"/>
<path class="cv" stroke="#E2581A" d="M405.6 542.65 L408.1 545.56 L410.85 549.14 L425.81 571.69 L428.85 575.69 L431.45 578.77 L432.89 580.3 L436.72 584.05 L440.97 588.39 L443 590.15 L446.03 592.4 L451.08 595.82 L454.11 597.58 L457.15 599.19 L459.17 600.13 L461.19 600.92 L464.22 601.93 L467.25 602.76 L470.28 603.43 L473.32 604 L477.36 604.64 L482.41 605.34 L497.57 607.05 L505.3 607.77 L512.73 608.25 L538 609.62"/>
<path class="cv" stroke="#F2B521" d="M405.6 543.18 L406.6 554.88 L407.35 561.92 L407.62 563.78 L408.1 566.23 L408.63 568.58 L409.35 571.15 L409.85 572.51 L410.35 573.5 L411.1 574.59 L412.1 575.73 L413.1 576.6 L414.6 577.65 L416.1 578.51 L417.6 579.23 L423.79 581.91 L425.81 582.63 L426.82 582.88 L428.85 583.26 L434.08 584.05 L445.02 585.96 L469.27 590.85 L475.34 591.9 L482.41 593.01 L497.57 595.15 L510.71 597.25 L523.76 599.07 L530.93 600.31 L538 601.71"/>
<path class="cv" stroke="#8A2FA0" d="M405.6 543.18 L406.13 548.45 L406.85 551.73 L407.35 553.15 L407.71 553.73 L408.85 554.76 L409.85 555.46 L411.1 556.1 L412.35 556.59 L415.1 557.48 L419.75 559.18 L424.8 560.72 L429.86 562.07 L447.04 566.04 L452.09 567.31 L457.15 568.83 L464.22 571.26 L482.41 578.06 L486.45 579.71 L491.51 581.96 L495.55 583.92 L500.6 586.64 L505.66 589.53 L511.72 593.28 L513.74 594.32 L516.78 595.65 L519.81 596.79 L522.84 597.74 L538 601.71"/>
<path class="cv" stroke="#7AB22F" d="M405.6 543.18 L406.1 548.22 L406.6 552.24 L407.1 555.77 L407.6 558.53 L408.35 561.43 L409.1 563.89 L409.85 565.96 L410.85 568.16 L411.85 569.81 L413.1 571.45 L414.35 572.77 L415.71 573.94 L417.6 575.24 L419.75 576.46 L421.77 577.38 L423.53 577.98 L425.81 578.58 L428.85 579.21 L435.92 580.39 L440.97 581.16 L446.03 581.8 L452.09 582.43 L456.13 582.77 L459.17 582.95 L468.26 583.16 L476.35 583.25 L538 583.25"/>
<path class="cv" stroke="#4CC0F2" d="M405.6 543.18 L405.85 546.11 L406.13 548.45 L406.85 551.45 L407.35 552.71 L407.6 553.09 L408.35 553.71 L409.1 554.21 L410.1 554.74 L411.1 555.16 L412.67 555.65 L417.73 556.89 L422.78 557.9 L430.87 559.24 L435.92 559.96 L439.36 560.32 L447.04 560.82 L483.42 562.64 L490.5 563.1 L495.55 563.58 L499.59 564.3 L507.68 566.15 L526.4 570.86 L538 574.03"/>
<path class="cv" stroke="#A8152F" d="M405.6 543.18 L405.85 546.14 L406.13 548.45 L406.85 551.24 L407.35 552.36 L407.6 552.62 L408.85 552.91 L410.35 553.1 L414.85 553.4 L419.75 553.85 L420.9 553.99 L422.78 554.44 L423.53 554.52 L538 554.52"/>
<path class="cv" stroke="#0878CC" d="M405.6 543.18 L406.1 548.3 L406.6 550.56 L407.1 552.15 L407.6 553.08 L408.1 553.54 L409.1 554.2 L409.6 554.4 L410.1 554.5 L538 554.52"/>
<text class="tk" text-anchor="middle" x="405.6" y="676.7">0</text>
<text class="tk" text-anchor="middle" x="432.1" y="676.7">100</text>
<text class="tk" text-anchor="middle" x="458.6" y="676.7">200</text>
<text class="tk" text-anchor="middle" x="485" y="676.7">300</text>
<text class="tk" text-anchor="middle" x="511.5" y="676.7">400</text>
<text class="tk" text-anchor="middle" x="538" y="676.7">500</text>
<text class="tk" style="font-size:8.3px" text-anchor="end" x="403" y="542.6">10<tspan dy="-3.3" font-size="6px">10</tspan></text>
<text class="tk" style="font-size:8.3px" text-anchor="end" x="403" y="584.5">10<tspan dy="-3.3" font-size="6px">8</tspan></text>
<text class="tk" style="font-size:8.3px" text-anchor="end" x="403" y="627.7">10<tspan dy="-3.3" font-size="6px">6</tspan></text>
<text class="tk" style="font-size:8.3px" text-anchor="end" x="403" y="670.9">10<tspan dy="-3.3" font-size="6px">4</tspan></text>
<path class="tm" d="M432.1 667.3 v-1.9 M432.1 537.7 v1.9 M458.6 667.3 v-1.9 M458.6 537.7 v1.9 M485 667.3 v-1.9 M485 537.7 v1.9 M511.5 667.3 v-1.9 M511.5 537.7 v1.9 M405.6 538.7 h1.9 M538 538.7 h-1.9 M405.6 580.6 h1.9 M538 580.6 h-1.9 M405.6 623.8 h1.9 M538 623.8 h-1.9 M405.6 667 h1.9 M538 667 h-1.9 M405.6 645.3 h0.9 M538 645.3 h-0.9 M405.6 602.5 h0.9 M538 602.5 h-0.9 M405.6 559.7 h0.9 M538 559.7 h-0.9"/>
<text class="yl" text-anchor="middle" transform="translate(385 603) rotate(-90)">Average fitness</text>
<text class="lb" text-anchor="middle" x="471.5" y="688">Iterations</text>
<text class="tt" x="453.6" y="698.9" textLength="16" lengthAdjust="spacingAndGlyphs">F30</text>
</g>
<rect x="546.4" y="493" width="3.6" height="11" fill="#fff"/>
<g>
<path class="cv" style="stroke-linecap:butt;stroke-width:0.66" stroke="#0E86E2" d="M69.2 713.4 H94.9"/>
<text class="lg" x="98.8" y="716.4" textLength="26.7" lengthAdjust="spacingAndGlyphs">ASFFOX</text>
<path class="cv" style="stroke-linecap:butt;stroke-width:0.66" stroke="#E2581A" d="M131.6 713.4 H156.7"/>
<text class="lg" x="160.4" y="716.4" textLength="14.2" lengthAdjust="spacingAndGlyphs">FOX</text>
<path class="cv" style="stroke-linecap:butt;stroke-width:0.66" stroke="#F2B521" d="M181.4 713.4 H206.4"/>
<text class="lg" x="209.9" y="716.4" textLength="16.9" lengthAdjust="spacingAndGlyphs">GWO</text>
<path class="cv" style="stroke-linecap:butt;stroke-width:0.66" stroke="#8A2FA0" d="M233.2 713.4 H258.8"/>
<text class="lg" x="261.7" y="716.4" textLength="15.7" lengthAdjust="spacingAndGlyphs">HHO</text>
<path class="cv" style="stroke-linecap:butt;stroke-width:0.66" stroke="#7AB22F" d="M283.2 713.4 H308.8"/>
<text class="lg" x="312.3" y="716.4" textLength="16.3" lengthAdjust="spacingAndGlyphs">WOA</text>
<path class="cv" style="stroke-linecap:butt;stroke-width:0.66" stroke="#4CC0F2" d="M336 713.4 H361.4"/>
<text class="lg" x="364.3" y="716.4" textLength="15.4" lengthAdjust="spacingAndGlyphs">DBO</text>
<path class="cv" style="stroke-linecap:butt;stroke-width:0.66" stroke="#A8152F" d="M386.1 713.4 H411.4"/>
<text class="lg" x="414.3" y="716.4" textLength="14.8" lengthAdjust="spacingAndGlyphs">COA</text>
<path class="cv" style="stroke-linecap:butt;stroke-width:0.66" stroke="#0878CC" d="M435.5 713.4 H460.9"/>
<text class="lg" x="464" y="716.4" textLength="15.2" lengthAdjust="spacingAndGlyphs">OOA</text>
</g>
</svg></body></html>
